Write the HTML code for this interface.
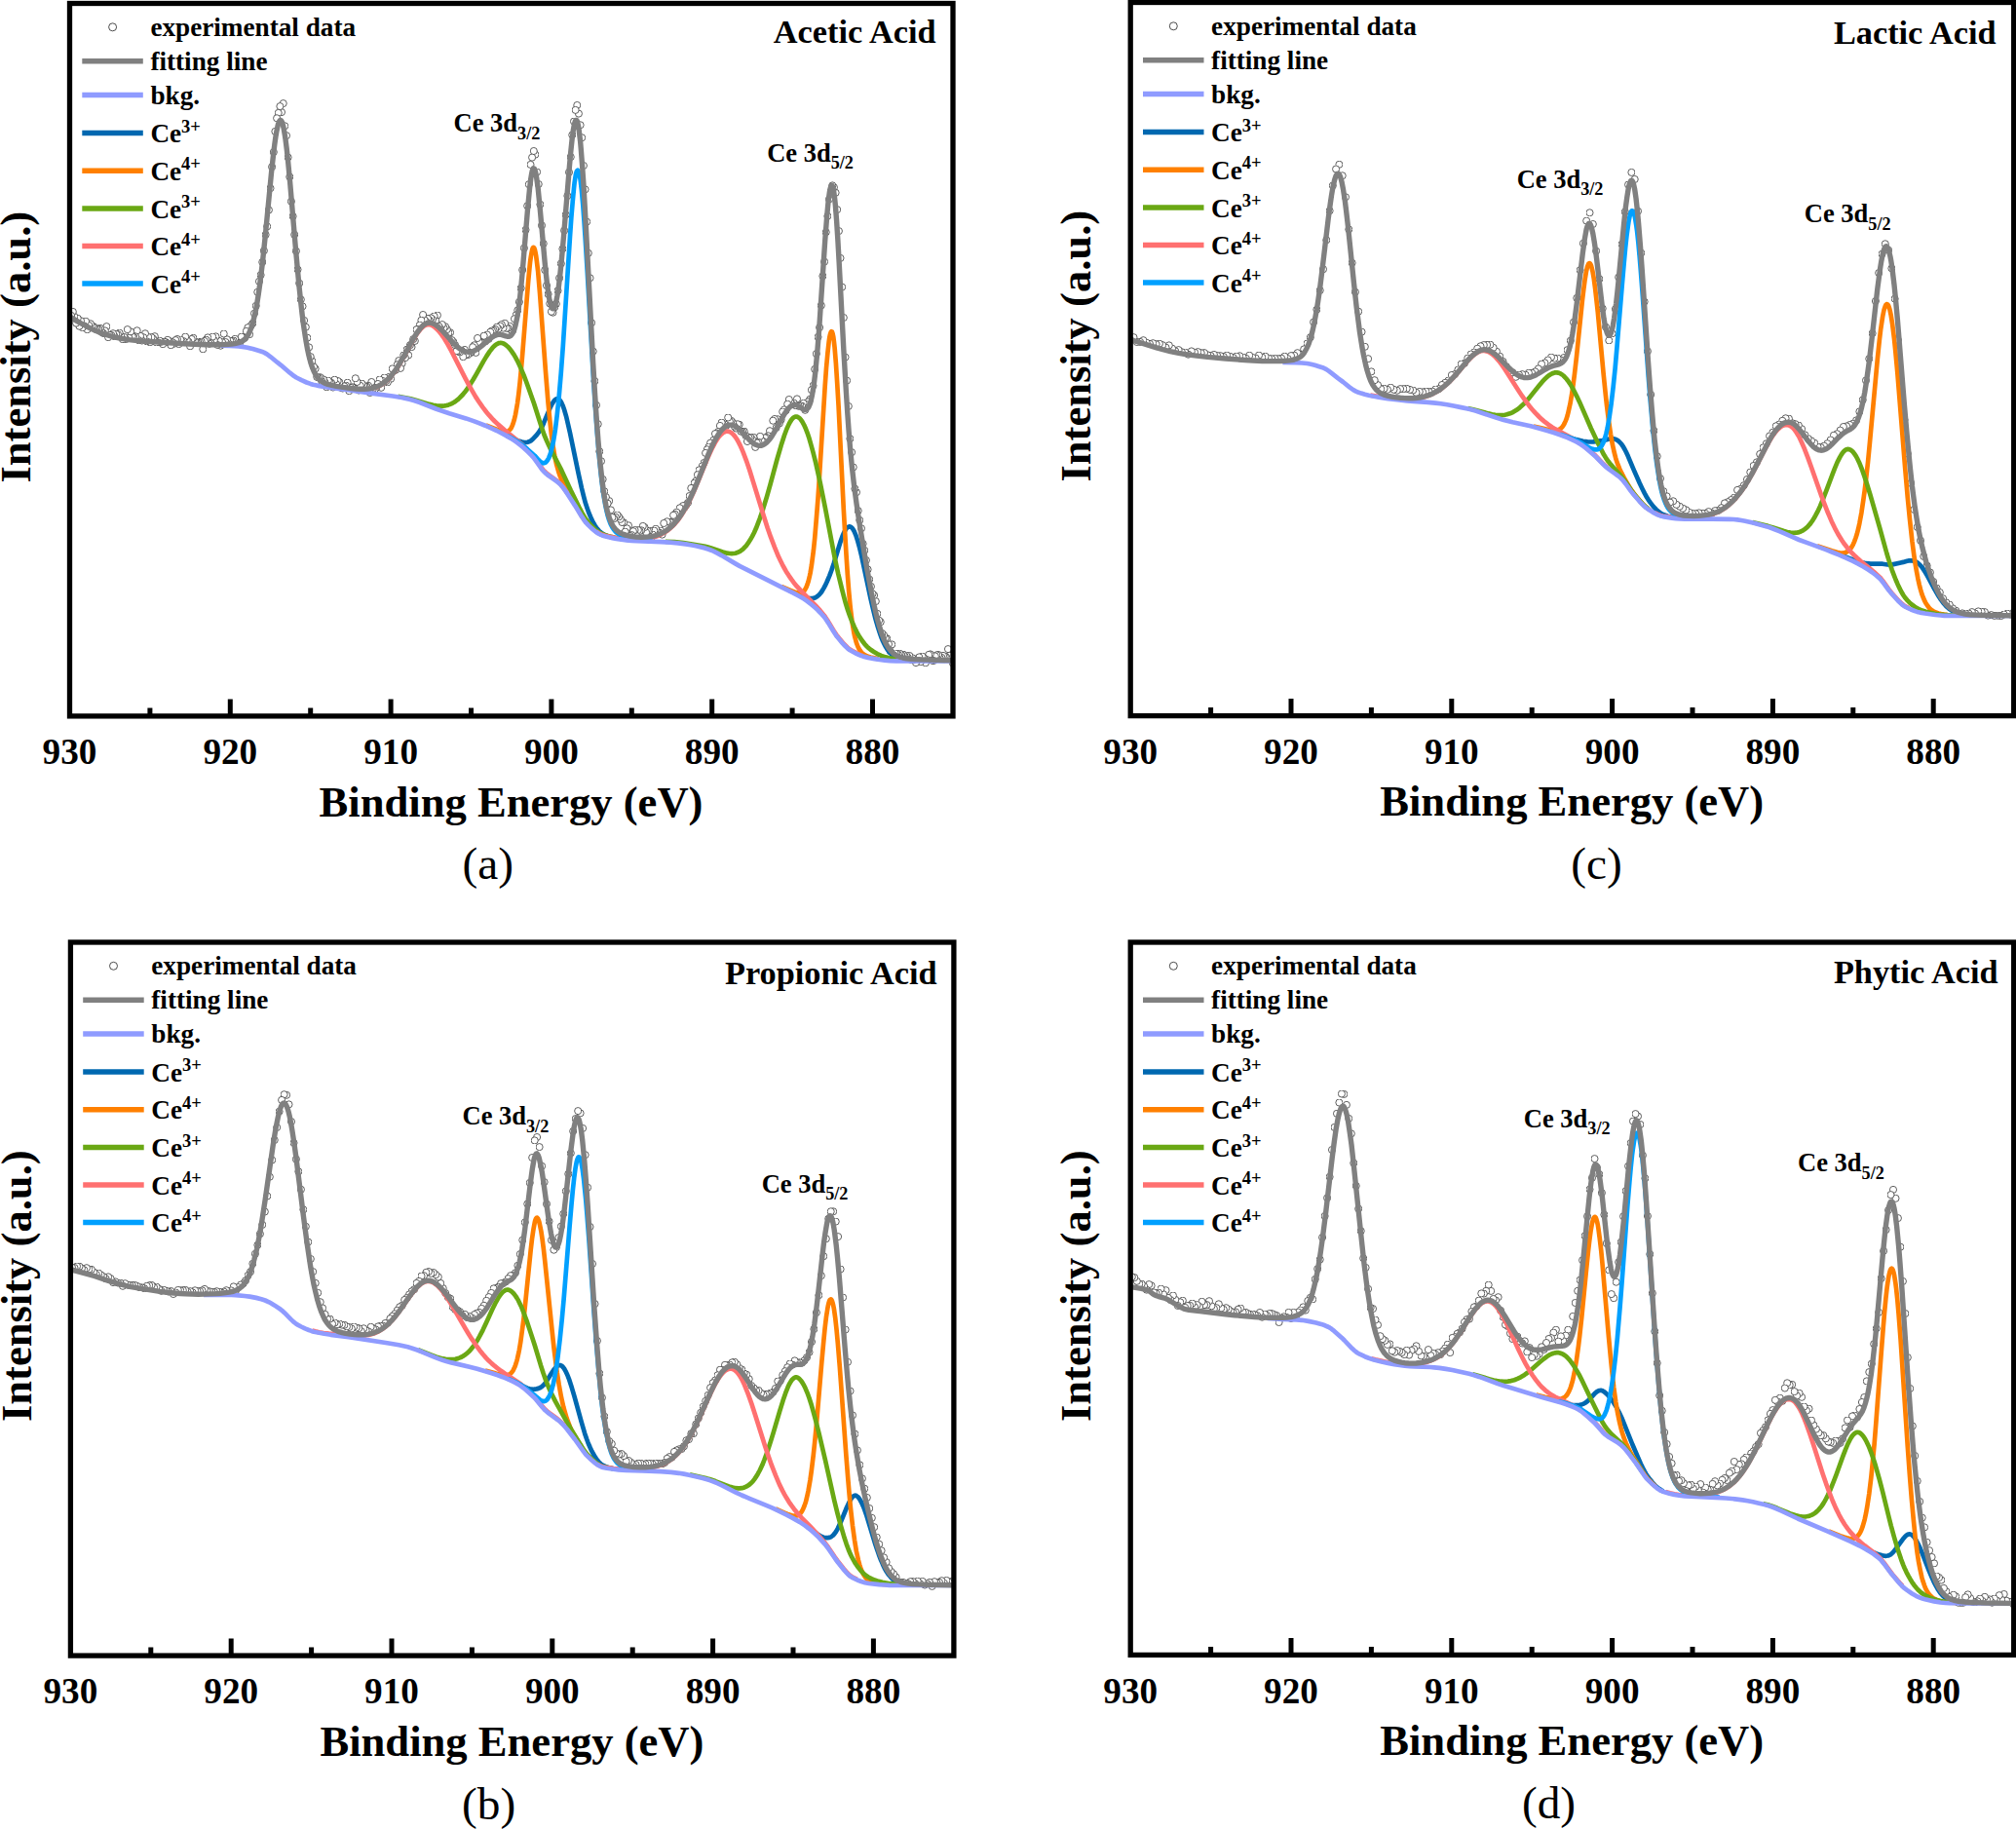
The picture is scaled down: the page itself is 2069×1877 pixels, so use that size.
<!DOCTYPE html>
    <html><head><meta charset="utf-8"><title>Ce 3d XPS</title>
    <style>html,body{margin:0;padding:0;background:#fff}svg{display:block}</style></head>
    <body><svg width="2069" height="1877" viewBox="0 0 2069 1877" font-family="'Liberation Serif',serif" font-weight="bold" fill="#000">
    <defs><marker id="mk" markerUnits="userSpaceOnUse" markerWidth="8" markerHeight="8" refX="4" refY="4"><circle cx="4" cy="4" r="3.55" fill="#fff" stroke="#383838" stroke-width="0.8"/></marker></defs>
    <rect width="2069" height="1877" fill="#fff"/>
    <clipPath id="ca"><rect x="71.5" y="3.5" width="906.5" height="731.4"/></clipPath>
<g clip-path="url(#ca)" fill="none" stroke-linejoin="round" stroke-linecap="butt">
<polyline points="977.9,680.5 976.3,673.9 974.6,672.8 973,666.1 971.3,674.6 969.7,673.6 968,672.9 966.4,674.9 964.7,675.7 963.1,672 961.4,672.3 959.8,673.4 958.1,678.1 956.5,677.7 954.8,671.4 953.2,671.9 951.5,677.1 949.9,680.3 948.2,675.2 946.6,673.6 944.9,679.2 943.3,674.4 941.6,677.6 940,680.1 938.3,676.8 936.7,675.4 935.1,677.1 933.4,673 931.8,674.8 930.1,672.5 928.5,673.2 926.8,671.5 925.2,672 923.5,670.8 921.9,671.7 920.2,670.5 918.6,670.5 916.9,672.3 915.3,661.4 913.6,668.1 912,661.1 910.3,655.3 908.7,654.9 907,651.8 905.4,650.1 903.7,638.3 902.1,636.7 900.4,629.8 898.8,617.1 897.1,610.9 895.5,609.4 893.9,601.9 892.2,594.6 890.6,584.4 888.9,575 887.3,564.9 885.6,558 884,542.3 882.3,533.9 880.7,524.2 879,505.2 877.4,501.6 875.7,479.5 874.1,464.2 872.4,450.2 870.8,416.9 869.1,390.6 867.5,366.6 865.8,326 864.2,294.6 862.5,264.9 860.9,237.1 859.2,215.1 857.6,197.8 855.9,192.3 854.3,190.4 852.7,196.4 851,204.5 849.4,221.8 847.7,238.3 846.1,268.6 844.4,283.3 842.8,313.5 841.1,336.1 839.5,345.9 837.8,363.1 836.2,378.9 834.5,395.8 832.9,400.2 831.2,409.8 829.6,412.3 827.9,415.2 826.3,420.8 824.6,413.8 823,416.6 821.3,416.3 819.7,416.8 818,409.4 816.4,416.1 814.7,413.6 813.1,415.1 811.5,413.3 809.8,410 808.2,414.7 806.5,421.3 804.9,420.4 803.2,422.5 801.6,430.8 799.9,434.5 798.3,430.3 796.6,439 795,430 793.3,431.7 791.7,444 790,442.2 788.4,447.3 786.7,449 785.1,449.4 783.4,453.1 781.8,452.4 780.1,447.8 778.5,453.9 776.8,454.4 775.2,458.9 773.5,448.9 771.9,450.7 770.3,448.8 768.6,449.3 767,453 765.3,446.9 763.7,442.6 762,442.9 760.4,442.7 758.7,435.7 757.1,435.3 755.4,439.5 753.8,437.6 752.1,433.8 750.5,431.9 748.8,432.3 747.2,428.5 745.5,436.7 743.9,435.5 742.2,436.4 740.6,433.6 738.9,436.9 737.3,443 735.6,444.6 734,445.1 732.3,451.8 730.7,456.5 729.1,454.6 727.4,458.6 725.8,461.3 724.1,464.9 722.5,475 720.8,478.3 719.2,482.2 717.5,482.4 715.9,487.2 714.2,493.7 712.6,495.8 710.9,501 709.3,501 707.6,509 706,516 704.3,518.2 702.7,520.6 701,519.1 699.4,523.5 697.7,521.3 696.1,527.6 694.4,525.7 692.8,527.8 691.1,528.8 689.5,535.9 687.9,536.2 686.2,538 684.6,535.3 682.9,540.8 681.3,537 679.6,548.6 678,544.5 676.3,546.4 674.7,546 673,542.7 671.4,544.6 669.7,548.5 668.1,553.2 666.4,544.6 664.8,545 663.1,546.4 661.5,541.1 659.8,539.9 658.2,544.3 656.5,545 654.9,544.1 653.2,549.9 651.6,544 649.9,545.2 648.3,549.1 646.7,550 645,539.3 643.4,542.3 641.7,545.7 640.1,536.3 638.4,536 636.8,532.8 635.1,530.4 633.5,528.5 631.8,530.7 630.2,532.2 628.5,531 626.9,523.4 625.2,514.1 623.6,516.7 621.9,510.1 620.3,504.3 618.6,491.9 617,473.3 615.3,463.3 613.7,435.2 612,415.8 610.4,391.1 608.7,360.6 607.1,331.3 605.5,285.3 603.8,259.8 602.2,227.6 600.5,194.4 598.9,170 597.2,141.3 595.6,128.3 593.9,116.6 592.3,108 590.6,112.9 589,124.6 587.3,138.5 585.7,161.1 584,176.8 582.4,201 580.7,220.4 579.1,236.6 577.4,255.4 575.8,270.5 574.1,285.4 572.5,298.3 570.8,311.9 569.2,315.3 567.5,320.7 565.9,319.8 564.3,311.5 562.6,301.9 561,293 559.3,277.1 557.7,250 556,231.4 554.4,209.8 552.7,189 551.1,176.5 549.4,158.6 547.8,155 546.1,161.6 544.5,168.9 542.8,189.2 541.2,211.3 539.5,235.9 537.9,254.6 536.2,277 534.6,295.8 532.9,309.9 531.3,318.4 529.6,323.4 528,327.2 526.3,339.1 524.7,338.6 523.1,334.7 521.4,336.7 519.8,336.8 518.1,331.8 516.5,336.6 514.8,333.1 513.2,334.5 511.5,337.5 509.9,335.7 508.2,337.9 506.6,339 504.9,339.5 503.3,340.7 501.6,347.9 500,343.5 498.3,350.3 496.7,344.7 495,351.5 493.4,351.6 491.7,351.1 490.1,347 488.4,361.9 486.8,354.3 485.1,356.2 483.5,361.8 481.9,362.4 480.2,364.1 478.6,363.7 476.9,358.9 475.3,366.2 473.6,359.6 472,361.4 470.3,360.6 468.7,360.1 467,354 465.4,351 463.7,349.1 462.1,341.3 460.4,341.6 458.8,338.1 457.1,335.3 455.5,336.6 453.8,333.1 452.2,337.6 450.5,335 448.9,323.5 447.2,328.9 445.6,324.5 443.9,327.9 442.3,326.4 440.7,328.6 439,327 437.4,330.2 435.7,328.4 434.1,323 432.4,328.7 430.8,333.6 429.1,337.7 427.5,338.2 425.8,349.9 424.2,348.1 422.5,356.1 420.9,354.2 419.2,364.5 417.6,358.7 415.9,367.2 414.3,364.5 412.6,373 411,377.9 409.3,370.1 407.7,374.3 406,379.8 404.4,380.1 402.7,378.4 401.1,388.8 399.5,386.8 397.8,392.4 396.2,391.1 394.5,387.5 392.9,391 391.2,397.8 389.6,389.5 387.9,394 386.3,397.8 384.6,399.9 383,398.8 381.3,392 379.7,403 378,395.8 376.4,396.7 374.7,396.6 373.1,395.9 371.4,393.7 369.8,395.9 368.1,400.5 366.5,391.9 364.8,388.3 363.2,398.2 361.5,397.3 359.9,397.8 358.3,401.2 356.6,392.7 355,395.6 353.3,396.4 351.7,398.5 350,397.9 348.4,392.3 346.7,391 345.1,394.1 343.4,389.7 341.8,397.5 340.1,392.9 338.5,392.4 336.8,390.6 335.2,397.3 333.5,392.4 331.9,389.4 330.2,391.2 328.6,387.2 326.9,387.5 325.3,386.9 323.6,378.4 322,376.4 320.3,370.5 318.7,366.1 317.1,356.4 315.4,346.7 313.8,335.7 312.1,328.9 310.5,314.4 308.8,307.4 307.2,290.7 305.5,276.6 303.9,257.7 302.2,240.8 300.6,222 298.9,206.7 297.3,181.5 295.6,161.5 294,139.2 292.3,129.3 290.7,106.1 289,115.1 287.4,109.1 285.7,115.9 284.1,121.3 282.4,134.9 280.8,156.1 279.1,171.3 277.5,193.2 275.9,215.5 274.2,232.4 272.6,240.9 270.9,257.3 269.3,269 267.6,282.2 266,288.8 264.3,299.8 262.7,313.9 261,321.7 259.4,331.8 257.7,334 256.1,343.2 254.4,336.2 252.8,339.9 251.1,346.9 249.5,346.3 247.8,345.6 246.2,351.8 244.5,352.3 242.9,352.5 241.2,347.8 239.6,349.5 237.9,349.9 236.3,349.8 234.7,352.6 233,348.3 231.4,351 229.7,342.5 228.1,351.3 226.4,354.7 224.8,349.8 223.1,353.9 221.5,345.4 219.8,349.2 218.2,345.6 216.5,352.1 214.9,352.8 213.2,346.4 211.6,348.7 209.9,350 208.3,358.3 206.6,350.5 205,351.2 203.3,351.5 201.7,351.4 200,350.3 198.4,346.8 196.7,348 195.1,355.3 193.5,350.7 191.8,348.9 190.2,345.6 188.5,350.2 186.9,350.8 185.2,348.5 183.6,353.1 181.9,348 180.3,349.1 178.6,352.7 177,351.3 175.3,354.2 173.7,350 172,348.8 170.4,351.3 168.7,350.8 167.1,353.2 165.4,350.8 163.8,349.6 162.1,351.3 160.5,351.4 158.8,345.2 157.2,347.6 155.5,346.2 153.9,351.3 152.3,346 150.6,350.3 149,342.3 147.3,346.3 145.7,349.5 144,344.8 142.4,349.2 140.7,339.3 139.1,345.4 137.4,346.1 135.8,345.3 134.1,340.4 132.5,346.9 130.8,338.1 129.2,348.1 127.5,346 125.9,348.2 124.2,345 122.6,341.6 120.9,343.1 119.3,342.9 117.6,345.2 116,342.2 114.3,344 112.7,344 111.1,346.2 109.4,335.1 107.8,339.4 106.1,342 104.5,340.9 102.8,336.8 101.2,337.6 99.5,337.4 97.9,337.8 96.2,335.3 94.6,334.7 92.9,332.3 91.3,334 89.6,338.2 88,329.7 86.3,334.4 84.7,336.2 83,329.3 81.4,334.7 79.7,326.7 78.1,331.6 76.4,324.9 74.8,319.9 73.1,323.9 71.5,327.4" stroke="none" fill="none" marker-start="url(#mk)" marker-mid="url(#mk)" marker-end="url(#mk)"/>
<path d="M629.2,551.8L624.6,550.4L622.6,549.7L620.6,548.8L618.6,547.8L617.3,546.9L616,545.9L614.7,544.6L613.4,543.2L612,541.4L610.7,539.5L609.4,537.3L608.1,534.8L606.8,532.1L604.1,525.8L602.2,520.3L600.8,516.1L598.9,508.9L596.9,500.8L593.6,485.7L585,444.2L583,435.4L581.1,427.3L579.1,420.5L577.8,416.7L576.4,413.6L575.8,412.4L574.5,410.6L573.8,410L573.2,409.6L572.5,409.3L571.8,409.3L571.2,409.4L570.5,409.7L569.9,410.1L569.2,410.7L567.9,412.4L566.6,414.5L564.6,418.5L562.6,423.1L558,434.2L556.7,437.1L554.7,440.8L552.7,443.9L550.1,447.2L546.8,450.7L544.8,452.3L542.8,453.3L541.5,453.7L540.2,454L538.2,454L535.6,453.6L532.3,452.6L528.3,450.9L525,449.4L519.1,446.3" stroke="#0068b0" stroke-width="4.7"/>
<path d="M939,677.8L931.8,677.4L929.1,677.2L926.5,676.8L923.8,676.2L921.9,675.6L919.9,674.8L918.6,674.1L916.6,672.9L915.3,671.8L914,670.5L912.6,669.1L911.3,667.4L910,665.4L908.7,663.2L907.4,660.6L906,657.8L904.7,654.6L902.8,649.2L900.8,643L898.1,633.5L896.2,625.6L893.5,614.1L884.3,571L882.3,562.7L880.3,555.4L878.4,549.4L877,546.1L876.4,544.8L875.1,542.6L874.4,541.8L873.7,541.1L873.1,540.7L872.4,540.5L871.8,540.4L871.1,540.5L870.5,540.8L869.8,541.2L869.1,541.9L867.8,543.6L867.2,544.7L865.8,547.4L864.5,550.5L862.5,556.1L855.9,577.7L853.3,585.5L851.3,590.8L848.7,597L847.4,599.8L845.4,603.6L843.4,607L842.1,608.8L840.8,610.3L838.8,612L837.5,612.9L836.2,613.5L834.9,613.9L833.5,614.1L832.2,614.1L830.2,613.9L828.9,613.7L826.9,613.1L823.6,612L819,610L810.5,606.1" stroke="#0068b0" stroke-width="4.7"/>
<path d="M602.2,536.7L600.2,534.1L597.5,530.2L590.3,517.9L586.3,511.4L581.7,503.2L577.8,495.4L575.1,489.4L573.2,483.9L571.2,476.9L569.2,467.7L567.2,455.6L565.9,445.8L564.6,434.3L562.6,414L560,381.8L554,300.6L552.1,278.1L550.7,266.6L550.1,262.1L549.4,258.5L548.8,255.9L548.1,254.3L547.4,253.9L546.8,254.6L546.1,256.6L545.5,259.6L544.8,263.6L544.1,268.6L543.5,274.5L542.2,288.3L540.9,304.2L536.2,363.6L534.9,378.8L533.6,392.4L532.3,404.2L531,414.1L529.6,422.1L529,425.5L527.7,431.1L526.3,435.4L525.7,437L524.4,439.6L523.7,440.5L522.4,441.9L521.1,442.7L519.8,443.1L517.8,443.1L516.5,442.9L514.5,442.4L511.2,441.2L498.7,436.5" stroke="#ff8000" stroke-width="4.7"/>
<path d="M901.4,676.3L897.5,675.4L893.5,674.5L890.9,673.7L888.9,672.9L886.9,671.9L885.6,670.9L884.3,669.7L883,668.1L881.7,666.1L880.3,663.3L879,659.8L878.4,657.6L877,652.4L876.4,649.2L875.1,641.6L874.4,637.1L873.1,626.5L872.4,620.3L871.1,606L869.8,589L868.5,569.2L867.2,547L865.8,522.6L860.6,416.8L859.2,393.2L857.9,372.8L856.6,356.7L855.9,350.6L855.3,345.8L854.6,342.5L854,340.6L853.3,340.2L852.7,341L852,343L851.3,346.2L850.7,350.5L849.4,362.4L848,377.9L846.7,396.2L840.8,491.8L839.5,511.3L838.1,529.2L836.2,552.2L834.9,564.9L833.5,575.6L832.9,580.2L831.6,588L830.9,591.3L829.6,596.7L828.9,598.9L827.6,602.4L826.9,603.8L825.6,605.9L824.3,607.3L823,608.1L821.7,608.5L820.4,608.7L819,608.6L817.1,608.1L815.1,607.5L811.8,606.2L801.9,601.9" stroke="#ff8000" stroke-width="4.7"/>
<path d="M650.9,554.6L647,554.2L642.4,553.6L636.4,552.8L631.2,551.8L627.2,550.9L623.9,550L620.6,549L617.3,547.7L615.3,546.7L613.4,545.3L611.4,543.8L609.4,542L606.8,539.3L604.1,536.3L602.2,533.9L600.8,532.1L599.5,530L597.5,526.6L594.2,520.3L585.7,503L576.4,482.9L573.8,477.7L565.9,462.7L563.3,457.3L561.3,452.9L558.6,446.5L556.7,441L554.7,435.1L548.1,414.2L542.8,399.2L540.2,392L537.6,385.2L534.9,378.8L532.9,374.4L531,370.3L529,366.6L527,363.3L525,360.4L523.1,357.8L521.1,355.7L519.1,354L517.8,353.1L516.5,352.4L515.1,352L513.8,351.9L513.2,352L511.8,352.2L510.5,352.8L508.5,354L507.2,355.2L505.3,357.2L502.6,360.6L499.3,365.6L496,371.1L488.8,384.1L485.5,389.8L482.2,395.1L478.9,400L476.9,402.6L474.9,405L471.6,408.4L469.7,410.2L467.7,411.7L465.7,413L463.7,414.1L462.4,414.7L460.4,415.4L458.5,416L456.5,416.4L454.5,416.6L452.5,416.7L450.5,416.7L447.9,416.4L444.6,415.8L440.7,414.9L426.8,410.7L421.5,409.3L416.3,408.2L408.4,406.8" stroke="#6aa814" stroke-width="4.7"/>
<path d="M970.3,677.8L942.6,677.3L925.5,676.7L919.6,676.3L916.3,675.9L912.3,675.2L909,674.4L904.4,672.9L900.4,671.1L896.5,668.8L893.2,666.5L891.2,664.9L889.9,663.6L887.3,660.8L884.6,657.3L882,653.3L879.3,648.6L876.7,643.2L874.1,637.1L872.1,632L870.1,626.3L868.1,619.8L866.2,612.8L864.2,605.2L860.2,588.8L856.9,573.5L854.3,560L847,521.6L841.8,495.8L837.2,475L834.5,464.3L832.5,457L830.6,450.3L828.6,444.3L826.6,439.2L825.3,436.3L823.3,432.7L822,430.8L820.7,429.3L820,428.7L818.7,427.9L818,427.6L817.4,427.5L816.7,427.5L816.1,427.7L814.7,428.3L813.4,429.5L812.1,431.1L810.8,433.1L809.5,435.6L807.5,440L804.9,447L801.6,457.3L797.6,471L790.4,497.6L787.1,509.3L783.1,522.4L779.8,532.1L777.8,537.4L775.9,542.3L773.9,546.7L771.9,550.6L769.9,554.1L767.9,557.2L766,559.8L763.3,562.7L761.4,564.4L760,565.4L758.7,566.2L756.7,567.1L754.8,567.7L752.8,568L750.8,568.1L748.8,568L746.2,567.7L742.9,566.9L738.9,565.6L729.1,562.2L725.8,561.3L722.5,560.5L710.6,558.5L701.4,557.2L692.1,556.2L682.9,555.8" stroke="#6aa814" stroke-width="4.7"/>
<path d="M582.4,506.4L579.7,502.4L577.8,499.7L575.8,497.3L574.5,496L572.5,494.2L570.5,492.6L563.9,488L561.9,486.5L560,484.8L558,482.9L556.7,481.3L555.4,479.5L550.1,471.8L548.1,469.1L544.1,464.7L539.5,459.9L535.6,456L531.6,452.5L517.8,441.3L511.2,435.6L507.9,432.5L505.3,429.8L502,426.2L499.3,423L495.4,417.9L492.1,413.2L488.1,407.1L484.2,400.4L480.9,394.5L477.6,388.3L463.1,359.9L459.8,353.9L456.5,348.3L454.5,345.3L452.5,342.5L450.5,340.1L449.2,338.6L447.2,336.7L445.9,335.6L443.9,334.3L442.6,333.6L441.3,333.2L440,333L438.7,333.1L438,333.2L436.7,333.7L435.4,334.4L434.1,335.4L432.7,336.6L430.8,338.8L428.1,342.3L424.8,347.4L421.5,353.1L414.9,365.2L411.6,371.1L408.4,376.5L405.1,381.3L403.1,383.9L401.1,386.3L397.8,389.8L395.8,391.6L393.8,393.2L391.9,394.5L389.9,395.7L387.9,396.7L385.9,397.5L384,398.1L381.3,398.8L379.3,399.1L376.7,399.5L374.1,399.7L370.8,399.7L366.8,399.7L362.9,399.4L349,398.2L337.8,397.1L329.2,395.8" stroke="#ff7070" stroke-width="4.7"/>
<path d="M885.3,672.9L882.6,671.9L879.3,670.4L876.1,668.7L872.8,666.8L871.4,665.9L869.5,664.2L866.2,660.9L861.6,655.5L859.6,653.1L858.3,651.3L855.6,647.2L849,636.2L847,633.2L845.7,631.4L841.8,626.7L837.2,621.7L832.5,616.9L823.3,607.6L818,601.9L814.7,597.9L812.1,594.4L809.5,590.6L806.8,586.4L804.9,583L802.9,579.3L800.9,575.3L798.9,571.1L795,561.6L791,551.2L787.7,541.7L783.8,529.5L773.2,495.1L769.3,482.5L766,472.8L762.7,464.1L760.7,459.4L759.4,456.6L757.4,452.7L756.1,450.5L754.1,447.6L752.8,446.1L750.8,444.2L749.5,443.4L748.2,442.9L747.5,442.7L746.2,442.6L744.9,442.8L744.2,443L742.9,443.6L741.6,444.4L739.6,446.2L737.6,448.5L735.6,451.4L734.3,453.5L732.3,457L730.4,460.9L728.4,465.2L724.4,474.3L716.5,493.9L712.6,503.2L708.6,511.9L704.7,519.7L702,524.4L700,527.6L697.4,531.5L694.8,535L692.8,537.3L690.2,540.1L687.5,542.5L684.9,544.6L681.6,546.7L678.3,548.5L675,549.9L671,551.2L667.1,552.1L662.5,552.8L657.2,553.3L651.9,553.5L646.7,553.4L640.1,552.9L632.8,552.1L626.2,550.9L620.9,549.7L617,548.4L614.4,547.1L611.7,545.4" stroke="#ff7070" stroke-width="4.7"/>
<path d="M669.4,555.3L662.8,554.7L656.9,554.1L651.6,553.4L647,552.6L643,551.6L639.1,550.2L636.4,549L635.1,548.3L633.8,547.4L631.8,545.7L629.8,543.3L628.5,541.3L627.9,540.2L626.5,537.4L625.2,534L623.9,529.8L622.6,524.7L621.3,518.6L620,511.2L618.6,502.5L616.7,486.6L614.7,466.7L612.7,442.7L610.7,414.9L608.7,383.5L602.8,279.7L600.8,246.8L599.5,227L598.2,209.6L596.9,195.2L595.6,184.3L594.9,180.4L594.2,177.4L593.6,175.5L592.9,174.7L592.3,175.1L591.6,176.6L590.9,179.2L590.3,182.8L589.6,187.5L589,193.2L587.7,207.1L586.3,223.8L585,242.6L579.7,325.7L577.8,355.4L575.8,382.3L573.8,405.7L571.8,425.3L569.9,441L569.2,445.4L567.9,453.1L567.2,456.4L565.9,462L565.2,464.4L563.9,468.2L563.3,469.8L561.9,472.3L560.6,473.9L560,474.5L559.3,474.9L558.6,475.2L558,475.3L557.3,475.2L556.7,475L555.4,474.4L554,473.3L552.7,472L548.8,467.7L547.4,466.5L540.9,460.7L536.2,456.9L532.9,454.5L529.6,452.3L525,449.6L520.4,447.1" stroke="#00a0ff" stroke-width="4.7"/>
<path d="M977.9,678.3L919.9,678.3L913.3,678.1L908,677.6L902.8,677L897.5,676.1L890.9,674.9L886.9,673.9L884.3,673.1L881.7,672L879,670.8L876.4,669.5L872.4,667.3L869.8,665.3L867.2,662.8L864.5,659.9L861.9,656.8L859.2,653.6L857.9,651.8L855.3,647.8L850,639.1L847.4,635.2L846.1,633.4L842.1,629L839.5,626.3L836.8,623.8L832.9,620.4L830.2,618.3L827.6,616.4L825,614.6L821,612.2L814.4,608.6L801.2,602.1L789.4,596.1L767,584.9L759,580.9L753.8,577.9L740.6,570.1L736.6,567.9L732.7,565.9L730,564.7L727.4,563.7L723.4,562.4L714.2,560.3L708.9,559.3L703.7,558.4L695.8,557.3L687.9,556.6L678.6,556.1L653.6,555.2L648.3,554.9L643,554.3L632.5,552.9L628.5,552.1L624.6,551.3L620.6,550.2L618,549.4L616.7,548.9L614,547.5L611.4,545.7L607.4,542.4L603.5,538.6L602.2,537.2L600.8,535.6L599.5,533.8L596.9,529.9L590.3,519.1L581.1,504.9L578.4,501.1L577.1,499.5L575.8,497.9L574.5,496.6L573.2,495.4L570.5,493.3L562.6,487.8L560,485.7L558.6,484.4L557.3,483L556,481.4L550.7,473.8L548.1,470.3L545.5,467.4L541.5,463.4L537.6,459.7L534.9,457.4L532.3,455.3L529.6,453.3L524.4,449.9L517.8,446.1L509.9,442L504.6,439.6L498,436.7L491.4,434.1L486.1,432.1L478.2,429.4L461.1,424.2L454.5,422L447.9,419.7L430.8,413L425.5,411.2L420.2,409.7L417.6,409.1L412.3,408L403.1,406.5L383.3,403.9L355.6,400L339.8,398L333.2,397L327.9,396.1L324,395.3L321.3,394.7L318.7,393.9L314.7,392.5L309.5,390.2L304.2,387.5L301.6,385.8L297.6,382.7L288.4,374.8L284.4,371.7L277.8,366.3L273.9,363.4L271.2,361.9L269.9,361.2L266,359.9L259.4,358L254.1,356.8L248.8,355.9L244.9,355.5L240.9,355.2L235.6,355L226.4,354.7" stroke="#8f9bff" stroke-width="4.7"/>
<path d="M977.9,677.8L950.9,677.1L941.6,676.7L935.1,676.3L930.4,675.8L926.5,675L923.2,674.1L921.2,673.2L919.9,672.6L917.9,671.3L916.6,670.3L915.3,669L914,667.6L912.6,665.9L911.3,664L909.3,660.6L908,657.9L906.7,654.9L904.7,649.7L902.1,641.4L900.1,634.2L897.5,623.2L894.2,607.5L890.2,586.1L886.3,563L882.3,538.6L879,516.7L876.4,496.8L874.4,479.2L872.4,458.4L871.1,442.3L869.8,424.1L868.5,403.9L865.8,358L861.2,269.8L859.9,246.8L858.6,226.5L857.3,210L856.6,203.4L855.9,198L855.3,194L854.6,191.4L854,190.2L853.3,190.3L852.7,191.5L852,194L851.3,197.5L850.7,202.1L850,207.6L848.7,221.4L846.7,247.2L840.8,335.9L838.8,361L836.8,381.7L835.5,392.7L834.9,397.4L833.5,405.3L832.2,411.2L831.6,413.5L830.9,415.4L830.2,417L829.6,418.2L828.9,419.1L828.3,419.8L827.6,420.2L826.9,420.4L826.3,420.5L825.6,420.4L824.3,419.9L823,419.1L819,416.4L817.7,415.8L816.4,415.4L815.1,415.4L813.8,415.7L812.4,416.3L811.1,417.2L809.8,418.4L808.5,419.9L807.2,421.7L805.2,424.7L802.6,429.2L795.3,442.3L792.7,446.7L790.7,449.6L789.4,451.3L788.1,452.8L786.1,454.7L784.8,455.7L783.4,456.5L781.5,457.2L779.5,457.4L777.5,457.1L775.5,456.3L774.2,455.6L772.9,454.7L770.9,453.1L768.9,451.2L762.3,444.2L759,440.9L756.4,438.7L755.1,437.8L753.8,437.1L752.5,436.6L751.1,436.2L749.8,436.1L748.5,436.1L747.2,436.4L745.9,437L744.5,437.7L743.2,438.7L741.9,439.9L740.6,441.3L739.3,442.9L738,444.7L735.3,449L732,455.2L729.4,460.8L726.7,466.9L715.5,494.9L712.9,501.2L710.3,507.2L707,514.1L704.3,519.2L701,525L698.4,529.1L695.1,533.6L691.8,537.5L688.5,540.7L686.5,542.4L684.6,543.9L682.6,545.2L680.6,546.4L678.6,547.4L676.6,548.2L672.7,549.6L670.7,550.1L668.1,550.6L663.5,551.1L658.2,551.3L652.9,551.1L647.6,550.4L643,549.4L639.1,548.1L637.1,547.2L635.8,546.5L634.5,545.7L633.1,544.6L631.2,542.7L629.2,540L627.9,537.7L627.2,536.3L625.9,533.1L624.6,529.2L623.3,524.4L621.9,518.6L620.6,511.5L619.3,503.2L618,493.3L616,475.3L614,453L612,426.3L610.7,406.2L608.7,372.9L606.8,336.5L600.8,222.5L598.9,188.6L597.5,168.9L596.2,152.1L595.6,145.1L594.2,133.7L593.6,129.5L592.9,126.3L592.3,124.3L591.6,123.3L590.9,123.4L590.3,124.5L589.6,126.7L589,129.8L588.3,133.7L587,143.9L585.7,156.6L584.4,171.1L578.4,243.9L576.4,266L575.1,279.1L573.2,295.7L571.8,304.3L570.5,310.8L569.9,313.2L569.2,315.1L568.5,316.3L567.9,316.9L567.2,316.9L566.6,316.3L565.9,315.1L565.2,313.2L564.6,310.7L563.9,307.6L562.6,299.7L561.3,289.6L559.3,270.9L554,211.8L552.1,192.6L550.7,182.7L550.1,178.9L549.4,175.9L548.8,173.9L548.1,172.8L547.4,172.7L546.8,173.7L546.1,175.9L545.5,179L544.8,183.1L543.5,193.9L541.5,214.9L536.2,278.9L534.9,293L533.6,305.3L532.3,315.8L531,324.4L529.6,331.2L529,334L527.7,338.4L527,340.1L526.3,341.5L525.7,342.6L525,343.5L524.4,344.2L523.7,344.7L523.1,345L521.7,345.3L520.4,345.2L519.1,344.9L515.1,343.6L513.8,343.4L512.5,343.3L511.2,343.4L509.9,343.7L508.5,344.2L507.2,344.7L505.3,345.9L502.6,347.8L494.7,354.6L492.1,356.7L488.8,358.9L486.1,360.2L484.2,360.8L482.8,361.1L480.9,361.2L479.5,361.1L478.2,360.9L476.2,360.3L474.9,359.7L473,358.6L471.6,357.7L469.7,356.1L466.4,353L463.1,349.5L455.2,340.6L452.5,337.9L449.9,335.5L447.9,334L446.6,333.1L445.3,332.4L443.9,331.8L442.6,331.4L441.3,331.1L440.7,331.1L439.3,331.2L438,331.6L436.7,332.2L435.4,333L434.1,334.1L432.7,335.4L431.4,336.8L428.8,340.3L426.1,344.4L423.5,348.8L414.3,365.8L410.3,372.7L406.4,379L403.1,383.5L399.8,387.4L396.5,390.6L393.2,393.3L391.2,394.6L389.2,395.7L386.6,396.9L383.3,398L380.7,398.6L377.4,399L373.4,399.3L369.5,399.2L364.8,399L360.2,398.5L351.7,397.4L345.1,396.3L340.5,395.4L336.5,394.4L333.2,393.2L330.6,391.7L328.6,390.3L326.6,388.3L325.3,386.7L324,384.7L322,380.8L320,375.8L318.7,371.6L316.7,363.8L315.4,357.6L314.1,350.3L312.8,342.1L311.4,332.8L310.1,322.4L308.8,311L306.8,291.9L303.5,256L297.6,186.4L295.6,165.5L294.3,153.3L293,142.8L292.3,138.3L291,130.9L290.4,128.2L289.7,126L289,124.5L288.4,123.6L287.7,123.4L287.1,123.9L286.4,125L285.7,126.7L285.1,129L283.8,135.3L283.1,139.2L281.8,148.4L280.5,159.1L278.5,177.5L272.6,238.8L269.3,270.5L266.6,292.3L265.3,301.7L264,310L262.7,317.3L261.3,323.7L260,329.1L258.1,335.7L256.7,339.2L256.1,340.8L254.8,343.4L254.1,344.5L252.8,346.4L250.8,348.5L248.8,350L246.8,351L244.2,351.9L240.9,352.6L237.6,353L231,353.5L225.8,353.7L219.2,353.8L212.6,353.7L205.3,353.5L188.8,352.7L146.6,350L138.7,349.4L132.1,348.6L124.2,347.4L117,345.8L113,344.7L109.7,343.7L105.8,342.4L102.5,341.2L95.2,338.1L88,334.5L80.1,330.1L71.5,324.8" stroke="#808080" stroke-width="5.4"/>
</g>
<rect x="71.5" y="3.5" width="906.5" height="731.4" fill="none" stroke="#000" stroke-width="5.3"/>
<path d="M153.9,734.9v-8.5M236.3,734.9v-17.5M318.7,734.9v-8.5M401.1,734.9v-17.5M483.5,734.9v-8.5M565.9,734.9v-17.5M648.3,734.9v-8.5M730.7,734.9v-17.5M813.1,734.9v-8.5M895.5,734.9v-17.5" stroke="#000" stroke-width="5" fill="none"/>
<text x="71.5" y="784.2" font-size="37.2" text-anchor="middle">930</text>
<text x="236.3" y="784.2" font-size="37.2" text-anchor="middle">920</text>
<text x="401.1" y="784.2" font-size="37.2" text-anchor="middle">910</text>
<text x="565.9" y="784.2" font-size="37.2" text-anchor="middle">900</text>
<text x="730.7" y="784.2" font-size="37.2" text-anchor="middle">890</text>
<text x="895.5" y="784.2" font-size="37.2" text-anchor="middle">880</text>
<text x="524.5" y="837.7" font-size="44.6" text-anchor="middle">Binding Energy (eV)</text>
<text x="500.8" y="902.4" font-size="47.3" text-anchor="middle" font-weight="normal">(a)</text>
<text transform="translate(30.7,495.6) rotate(-90)" font-size="44.6">Intensity (a.u.)</text>
<text x="960.5" y="44.4" font-size="34.3" text-anchor="end">Acetic Acid</text>
<circle cx="115.6" cy="27.8" r="4" fill="none" stroke="#383838" stroke-width="0.9"/>
<path d="M84.3,62.7H146.8" stroke="#808080" stroke-width="5.5"/>
<path d="M84.3,97.6H146.8" stroke="#8f9bff" stroke-width="5.5"/>
<path d="M84.3,136.5H146.8" stroke="#0068b0" stroke-width="5.5"/>
<path d="M84.3,175.2H146.8" stroke="#ff8000" stroke-width="5.5"/>
<path d="M84.3,213.9H146.8" stroke="#6aa814" stroke-width="5.5"/>
<path d="M84.3,252.4H146.8" stroke="#ff7070" stroke-width="5.5"/>
<path d="M84.3,291H146.8" stroke="#00a0ff" stroke-width="5.5"/>
<text x="154.4" y="36.7" font-size="27.2">experimental data</text>
<text x="154.4" y="71.6" font-size="27.2">fitting line</text>
<text x="154.4" y="106.5" font-size="27.2">bkg.</text>
<text x="154.4" y="146.1" font-size="27.2">Ce<tspan dy="-10.5" font-size="18.5">3+</tspan></text>
<text x="154.4" y="184.8" font-size="27.2">Ce<tspan dy="-10.5" font-size="18.5">4+</tspan></text>
<text x="154.4" y="223.5" font-size="27.2">Ce<tspan dy="-10.5" font-size="18.5">3+</tspan></text>
<text x="154.4" y="262" font-size="27.2">Ce<tspan dy="-10.5" font-size="18.5">4+</tspan></text>
<text x="154.4" y="300.6" font-size="27.2">Ce<tspan dy="-10.5" font-size="18.5">4+</tspan></text>
<text x="465.6" y="135.3" font-size="26.5">Ce 3d<tspan dy="7.2" font-size="18.2">3/2</tspan></text>
<text x="787.2" y="165.8" font-size="26.5">Ce 3d<tspan dy="7.2" font-size="18.2">5/2</tspan></text>
<clipPath id="cb"><rect x="72.4" y="967" width="906.5" height="732.1"/></clipPath>
<g clip-path="url(#cb)" fill="none" stroke-linejoin="round" stroke-linecap="butt">
<polyline points="978.8,1624.4 976.3,1623 973.9,1623.7 971.4,1621.9 968.9,1624.7 966.4,1622.2 964,1623.9 961.5,1624.3 959,1623.2 956.6,1627.9 954.1,1623.9 951.6,1625.3 949.1,1626.5 946.7,1622.9 944.2,1625.3 941.7,1622.7 939.2,1625 936.8,1623.1 934.3,1623.2 931.8,1625.2 929.4,1624.5 926.9,1623.9 924.4,1624.2 921.9,1623.3 919.5,1618.5 917,1615.2 914.5,1612.8 912.1,1609.3 909.6,1603.1 907.1,1598.4 904.6,1591.3 902.2,1584.7 899.7,1577.6 897.2,1567.2 894.8,1557.8 892.3,1548 889.8,1536.9 887.3,1527.7 884.9,1517.4 882.4,1503.4 879.9,1488.4 877.4,1471.6 875,1452.4 872.5,1427.5 870,1397.8 867.6,1364.5 865.1,1331.5 862.6,1302.5 860.1,1269.1 857.7,1253.6 855.2,1243.3 852.7,1243.3 850.3,1250.7 847.8,1271.3 845.3,1289.2 842.8,1309.2 840.4,1329.2 837.9,1347 835.4,1364 833,1377 830.5,1387.8 828,1393.1 825.5,1396.3 823.1,1398.6 820.6,1398.3 818.1,1398.4 815.6,1396.4 813.2,1400.5 810.7,1399.5 808.2,1403.2 805.8,1407.2 803.3,1411.2 800.8,1417 798.3,1417.5 795.9,1424.9 793.4,1428.6 790.9,1429.5 788.5,1430.7 786,1430.9 783.5,1431.5 781,1429.7 778.6,1427 776.1,1427.1 773.6,1424.5 771.2,1422.1 768.7,1415.2 766.2,1410.7 763.7,1409.5 761.3,1405.5 758.8,1403.9 756.3,1400.2 753.8,1397.7 751.4,1398.3 748.9,1400.6 746.4,1401.4 744,1400.8 741.5,1405.9 739,1405.7 736.5,1411.3 734.1,1416.5 731.6,1419.3 729.1,1424.2 726.7,1431.8 724.2,1437.8 721.7,1443.5 719.2,1449.8 716.8,1455.5 714.3,1461.6 711.8,1471.1 709.4,1471.2 706.9,1477.1 704.4,1478.3 701.9,1484.3 699.5,1487 697,1487.3 694.5,1488.4 692,1489.9 689.6,1495.6 687.1,1495.1 684.6,1496.9 682.2,1501 679.7,1502.3 677.2,1502 674.7,1502.1 672.3,1501.6 669.8,1502.6 667.3,1501.8 664.9,1501.6 662.4,1502.3 659.9,1503 657.4,1501.6 655,1501.7 652.5,1503 650,1504 647.6,1500.9 645.1,1499 642.6,1499.7 640.1,1494.1 637.7,1492 635.2,1492.5 632.7,1491.6 630.2,1488.7 627.8,1481.8 625.3,1479.1 622.8,1469.3 620.4,1453.7 617.9,1434.4 615.4,1409.6 612.9,1376 610.5,1338.1 608,1297 605.5,1259 603.1,1218.7 600.6,1185.2 598.1,1157.9 595.6,1142.4 593.2,1140.1 590.7,1148.1 588.2,1160.9 585.8,1183.4 583.3,1204.8 580.8,1222.4 578.3,1245.7 575.9,1258.6 573.4,1270.1 570.9,1280 568.4,1282.7 566,1272.7 563.5,1253.4 561,1235.6 558.6,1213.1 556.1,1196.7 553.6,1177.1 551.1,1167 548.7,1170.4 546.2,1188 543.7,1213.9 541.3,1235.5 538.8,1254.4 536.3,1272.6 533.8,1287.1 531.4,1298.8 528.9,1306.3 526.4,1308.9 524,1309.2 521.5,1312.2 519,1315.4 516.5,1317 514.1,1317.2 511.6,1320.7 509.1,1322 506.6,1322.4 504.2,1326.9 501.7,1331.1 499.2,1334.8 496.8,1339.8 494.3,1342.9 491.8,1346.8 489.3,1347.7 486.9,1349.1 484.4,1352.6 481.9,1351.1 479.5,1352.1 477,1348.8 474.5,1350.1 472,1346.2 469.6,1344.7 467.1,1343.8 464.6,1341.2 462.2,1332.7 459.7,1331.2 457.2,1327.1 454.7,1322.1 452.3,1317 449.8,1310.5 447.3,1308.1 444.8,1306 442.4,1306.8 439.9,1305 437.4,1305.8 435,1309.2 432.5,1309.5 430,1314.8 427.5,1316.9 425.1,1323.3 422.6,1325.3 420.1,1328.4 417.7,1331.9 415.2,1334 412.7,1339.8 410.2,1341.3 407.8,1344.7 405.3,1348.3 402.8,1350.7 400.4,1353.2 397.9,1357.5 395.4,1358 392.9,1360.6 390.5,1360.8 388,1361.4 385.5,1364.4 383,1363.4 380.6,1361.8 378.1,1366.4 375.6,1365.2 373.2,1363.3 370.7,1366.2 368.2,1363.2 365.7,1362.6 363.3,1361.5 360.8,1363.5 358.3,1362 355.9,1361.4 353.4,1359.8 350.9,1359.6 348.4,1358.5 346,1359.2 343.5,1357.5 341,1358.6 338.6,1353.6 336.1,1353.6 333.6,1348.9 331.1,1342.4 328.7,1336.2 326.2,1326.8 323.7,1316.8 321.2,1305.1 318.8,1292 316.3,1274.6 313.8,1258.7 311.4,1241.4 308.9,1220.7 306.4,1202.3 303.9,1189.6 301.5,1172.9 299,1151.1 296.5,1133.4 294.1,1123.8 291.6,1123.2 289.1,1128.9 286.6,1140.7 284.2,1157 281.7,1170 279.2,1190.5 276.8,1207.7 274.3,1227.5 271.8,1243.5 269.3,1256.9 266.9,1266.3 264.4,1277.7 261.9,1286.8 259.4,1296.8 257,1305.2 254.5,1309 252,1314.3 249.6,1317.3 247.1,1318.5 244.6,1321.1 242.1,1324.2 239.7,1320.4 237.2,1324.4 234.7,1326.1 232.3,1324.2 229.8,1325.6 227.3,1326.6 224.8,1325.6 222.4,1325.2 219.9,1326 217.4,1325.9 215,1325.3 212.5,1324.9 210,1322.9 207.5,1324.4 205.1,1325.1 202.6,1325.1 200.1,1324.3 197.6,1326.4 195.2,1325.2 192.7,1326 190.2,1323.8 187.8,1324.1 185.3,1324.4 182.8,1323.9 180.3,1326.5 177.9,1328 175.4,1325 172.9,1325.5 170.5,1324.7 168,1323.7 165.5,1324.8 163,1322.7 160.6,1320.6 158.1,1321.3 155.6,1318.9 153.2,1319.2 150.7,1319.8 148.2,1322.3 145.7,1321.4 143.3,1321.2 140.8,1319.9 138.3,1318.9 135.8,1319 133.4,1319.1 130.9,1318.5 128.4,1317.2 126,1319.8 123.5,1316.6 121,1316.5 118.5,1315.4 116.1,1316.1 113.6,1312.1 111.1,1310.4 108.7,1312.4 106.2,1310.2 103.7,1308.5 101.2,1306.6 98.8,1308 96.3,1305.6 93.8,1302.8 91.4,1302.5 88.9,1301.2 86.4,1303.4 83.9,1301.7 81.5,1299.7 79,1299.5 76.5,1301.1 74,1300.8" stroke="none" fill="none" marker-start="url(#mk)" marker-mid="url(#mk)" marker-end="url(#mk)"/>
<path d="M629.1,1507.1L625.1,1506.3L621.8,1505.2L618.5,1503.7L616.6,1502.3L614.6,1500.4L613.3,1498.9L612,1497.1L610,1494L607.3,1489.2L605.4,1485L603.4,1480.3L602.1,1476.8L600.1,1470.9L596.8,1459.7L589.5,1433.2L586.9,1424.3L584.3,1416.2L582.3,1411L580.3,1406.8L579,1404.5L578.3,1403.6L577,1402.1L576.4,1401.6L575.7,1401.3L575,1401.1L574.4,1401L573.7,1401.1L573.1,1401.3L572.4,1401.6L571.1,1402.5L569.8,1403.9L567.8,1406.5L565.8,1409.5L561.2,1417L559.9,1418.9L558.6,1420.6L557.2,1422L555.9,1423.1L554.6,1424L552.6,1424.9L550.6,1425.4L547.4,1425.8L545.4,1425.7L543.4,1425.3L541.4,1424.6L539.4,1423.8L532.2,1420L528.9,1418.4" stroke="#0068b0" stroke-width="4.7"/>
<path d="M936.3,1626.5L931,1626.1L927.1,1625.6L923.8,1624.7L921.8,1624L920.5,1623.4L917.8,1621.9L916.5,1620.9L915.2,1619.7L913.9,1618.3L912.6,1616.8L911.2,1615L909.9,1613L907.9,1609.5L906,1605.4L904,1600.8L902,1595.6L900,1589.8L898,1583.7L889.5,1555.8L887.5,1550L886.2,1546.5L884.2,1542L882.2,1538.4L880.9,1536.6L880.2,1536L878.9,1535L878.3,1534.8L877.6,1534.7L877,1534.8L876.3,1535.1L875.6,1535.6L875,1536.2L874.3,1537L873,1539L871,1542.7L869,1547L862.5,1562.8L859.8,1568.6L857.8,1572.1L856.5,1573.9L855.2,1575.4L854.5,1576L853.2,1577L852.6,1577.3L851.2,1577.9L849.3,1578.2L847.9,1578.1L846.6,1578L845.3,1577.7L844,1577.2L842,1576.3L839.4,1574.7L828.8,1567" stroke="#0068b0" stroke-width="4.7"/>
<path d="M615.3,1503.9L612.6,1502.2L610,1500.1L606,1496.4L602.7,1493.2L600.7,1490.8L598.8,1488.1L594.2,1480.9L588.2,1470.9L586.2,1467L584.9,1464.1L583,1459.2L581.6,1455.4L579.7,1449L578.3,1444L577,1438.4L575.7,1432.1L573.7,1421.2L571.7,1408.4L569.8,1393.6L568.4,1382.6L566.5,1364.7L559.2,1293.7L557.9,1282.1L556.6,1271.9L555.3,1263.2L553.9,1256.4L553.3,1253.9L552.6,1251.9L552,1250.5L551.3,1249.7L550.6,1249.8L550,1250.6L549.3,1252.3L548.7,1254.8L547.4,1262L546,1271.5L544.7,1282.7L538.8,1341.1L537.5,1353L536.1,1363.8L534.2,1377.7L532.9,1385.4L532.2,1388.8L530.9,1394.6L530.2,1397.1L528.9,1401.3L528.2,1403L526.9,1405.8L526.3,1406.9L524.9,1408.7L524.3,1409.3L523,1410.3L521.6,1410.9L520.3,1411.3L519,1411.4L517.7,1411.3L514.4,1410.8L510.4,1409.9L497.9,1406.6" stroke="#ff8000" stroke-width="4.7"/>
<path d="M911.2,1626.2L906.6,1625.8L902,1625.2L898.7,1624.6L896.1,1623.9L894.1,1623.2L892.1,1622.2L890.1,1620.8L888.8,1619.5L887.5,1617.8L886.2,1615.7L884.9,1613.1L883.5,1609.9L882.2,1605.9L880.9,1601.1L878.9,1592L877,1580.3L875,1565.7L873,1548L871.7,1534.2L870.4,1519L868.4,1493.8L861.8,1402.4L859.8,1378.1L858.5,1364.1L857.2,1352.3L855.9,1343.1L855.2,1339.6L854.5,1336.9L853.9,1334.9L853.2,1333.7L852.6,1333.3L851.9,1333.8L851.2,1335L850.6,1336.9L849.9,1339.7L849.3,1343.1L847.9,1351.9L846.6,1363.1L845.3,1376.2L843.3,1398.1L838.1,1459.8L836.1,1480.6L834.8,1493.1L832.8,1509.4L831.5,1518.7L829.5,1530.2L828.8,1533.5L827.5,1539.1L826.9,1541.5L825.5,1545.5L824.2,1548.7L822.9,1551.1L821.6,1552.9L820.3,1554.2L818.9,1555L817.6,1555.5L816.3,1555.7L815,1555.7L813,1555.3L811,1554.8L808.4,1553.9L805.8,1552.8L795.9,1548.5" stroke="#ff8000" stroke-width="4.7"/>
<path d="M632.1,1507.5L628.1,1507L624.2,1506.3L619.5,1505.3L617.6,1504.7L615.6,1503.8L613.6,1502.5L611.6,1501.1L609.6,1499.4L607,1497L603.7,1493.7L602.4,1492.3L600.4,1489.8L598.4,1486.9L596.5,1483.8L586.6,1467.7L583.3,1462L570.1,1438.4L566.8,1431.9L563.5,1424.8L560.2,1416.6L557.6,1409.2L554.9,1400.9L549,1381.3L545,1368.9L540.4,1355.1L537.1,1346.2L535.2,1341.3L533.8,1338.4L531.9,1334.4L530.5,1332.1L529.2,1330.1L527.2,1327.5L525.3,1325.6L524,1324.6L522.6,1324L521.3,1323.6L520,1323.7L518.7,1324.1L517.4,1324.9L516,1325.9L514.7,1327.3L513.4,1329L512.1,1330.9L510.8,1333.1L508.1,1337.9L504.8,1344.8L498.9,1357.8L495.6,1364.8L492.3,1371.2L489.7,1375.8L486.4,1380.8L485.1,1382.6L483.1,1385L481.8,1386.5L479.8,1388.4L477.8,1390L475.8,1391.4L473.9,1392.5L471.9,1393.4L469.9,1394.1L467.3,1394.7L465.3,1395L462.6,1395.1L460,1395L457.4,1394.8L454.7,1394.4L452.8,1393.9L447.5,1392.4L442.2,1390.4L429,1385.2" stroke="#6aa814" stroke-width="4.7"/>
<path d="M955.1,1626.5L932,1626.1L918.2,1625.6L913.5,1625.2L909.6,1624.6L905.6,1623.9L901.7,1622.9L897.7,1621.6L894.4,1620.2L891.1,1618.5L888.5,1616.7L885.9,1614.4L883.2,1611.6L880.6,1608.3L877.9,1604.5L876,1601.2L874,1597.5L872.7,1594.8L870.7,1590L868.7,1584.6L866.7,1578.6L864.8,1572.1L862.1,1562.9L859.5,1553.1L856.2,1539.7L847,1498.6L840.4,1470.5L836.4,1454.8L834.4,1447.6L832.5,1440.9L830.5,1434.8L828.5,1429.3L826.5,1424.6L825.2,1421.9L823.2,1418.5L821.9,1416.7L820.6,1415.2L819.9,1414.6L818.6,1413.7L818,1413.5L817.3,1413.4L816.6,1413.4L816,1413.5L815.3,1413.8L814,1414.8L812.7,1416.2L811.4,1418.1L810,1420.5L808.7,1423.3L806.1,1429.9L803.5,1437.6L800.2,1448.2L793.6,1470.7L790.9,1479.4L787.6,1489.5L784.3,1498.5L782.4,1503.3L781,1506.3L779.7,1509L777.7,1512.7L776.4,1514.9L774.4,1517.8L772.5,1520.3L770.5,1522.3L769.2,1523.5L767.2,1524.9L765.2,1525.9L763.2,1526.7L761.3,1527.2L759.3,1527.4L757.3,1527.4L755.3,1527.2L752,1526.6L748.1,1525.4L744.1,1524L734.2,1520.1L728.3,1518.1L725.7,1517.4L717.8,1515.5L707.9,1513.3" stroke="#6aa814" stroke-width="4.7"/>
<path d="M579.3,1463.1L576.7,1460.2L573.4,1457.3L570.8,1455.2L563.5,1449.9L561.5,1448.3L559.5,1446.5L556.9,1443.7L551.6,1437L549,1433.9L543.1,1428.1L537.8,1423.3L534.5,1420.5L531.2,1418.1L518,1409.5L514.1,1406.8L510.8,1404.3L507.5,1401.7L504.8,1399.4L501.5,1396.3L498.9,1393.6L495.6,1389.8L492.3,1385.7L488.4,1380.3L484.4,1374.4L481.1,1369.2L477.8,1363.7L463.3,1338.7L460,1333.4L456.7,1328.6L454.7,1325.9L452.8,1323.5L450.8,1321.3L449.5,1320L447.5,1318.3L446.2,1317.3L444.2,1316.1L442.9,1315.5L441.6,1315.1L439.6,1314.9L438.3,1314.9L436.3,1315.4L435,1315.9L433,1317L431.7,1317.9L429.7,1319.6L428.4,1320.8L426.4,1323L423.1,1327L419.8,1331.4L412.5,1341.9L409.3,1346.5L405.3,1351.6L402,1355.4L398,1359.4L396.1,1361.1L394.1,1362.7L392.1,1364.1L390.1,1365.4L388.2,1366.5L385.5,1367.7L383.5,1368.5L380.9,1369.3L378.3,1369.9L375.6,1370.3L373,1370.6L370.4,1370.8L367.1,1370.9L363.8,1370.8L359.2,1370.6L349.9,1369.9L337.4,1368.7L332.1,1368L327.5,1367.2L323.6,1366.4L320.3,1365.6" stroke="#ff7070" stroke-width="4.7"/>
<path d="M879.6,1620.8L875.6,1618.9L873,1617.3L871,1615.7L868.4,1612.9L865.7,1609.8L859.2,1601.4L856.5,1597.6L849.9,1587.7L846.6,1583.3L842,1577.9L836.7,1572.1L832.1,1567.2L822.9,1557.8L818.3,1552.7L815,1548.7L812.4,1545.2L809.7,1541.3L807.1,1537.1L805.1,1533.6L803.1,1529.9L799.8,1523.1L795.9,1513.9L791.9,1503.7L788.6,1494.4L785.3,1484.5L774.8,1451.2L771.5,1441.1L768.2,1431.7L765.5,1424.8L763.6,1420.2L762.3,1417.5L760.3,1413.7L759,1411.6L757,1408.9L755.7,1407.4L754.3,1406.3L753.7,1405.8L752.4,1405.2L751,1404.8L750.4,1404.6L749.1,1404.6L747.8,1404.9L745.8,1405.7L744.5,1406.5L742.5,1408.2L740.5,1410.4L738.5,1413L737.2,1414.9L735.2,1418.2L733.2,1421.8L731.3,1425.6L727.3,1434L719.4,1451.7L715.4,1460.2L710.8,1469.3L706.9,1476.3L704.2,1480.5L702.3,1483.4L700.3,1486.1L697.7,1489.4L695.7,1491.6L693,1494.2L690.4,1496.5L687.8,1498.5L685.1,1500.2L681.8,1502L678.5,1503.4L674.6,1504.8L670.6,1505.7L666.7,1506.4L662.1,1507L656.8,1507.3L649.5,1507.6L642.3,1507.7L635.7,1507.5L629.8,1507L623.8,1506.2L618.5,1505.2L617.2,1504.8L615.9,1504.2L613.3,1502.7" stroke="#ff7070" stroke-width="4.7"/>
<path d="M670.3,1509.2L653.8,1507.7L649.2,1507.2L645.9,1506.7L642.6,1506.1L640,1505.3L638,1504.5L636,1503.4L634,1501.8L632.7,1500.5L630.7,1497.9L629.4,1495.6L628.1,1492.8L626.8,1489.4L625.5,1485.2L624.2,1480.3L622.2,1471.1L620.2,1459.4L618.2,1444.9L616.2,1427.3L614.3,1406.4L611.6,1374.1L609.6,1347.1L604.4,1271.8L602.4,1245.7L601.1,1230.1L599.1,1210.3L597.8,1200.1L597.1,1196L596.5,1192.7L595.8,1190.2L595.1,1188.5L594.5,1187.5L593.8,1187.4L593.2,1188.1L592.5,1189.7L591.8,1192.1L591.2,1195.2L590.5,1199.1L589.2,1208.9L587.9,1221.1L586.6,1235L584.6,1258.4L578.7,1332.2L576.7,1354.4L574.7,1374L572.7,1390.9L570.8,1404.8L568.8,1415.8L567.5,1421.7L566.1,1426.5L565.5,1428.5L564.2,1431.9L562.8,1434.4L561.5,1436.3L560.9,1436.9L559.5,1437.8L558.9,1438L558.2,1438.1L556.9,1437.9L555.6,1437.4L553.6,1436.1L549,1432.2L541.8,1426.5L538.5,1423.9L535.2,1421.6L532.5,1420L529.9,1418.6L525.9,1416.8L521.3,1414.9" stroke="#00a0ff" stroke-width="4.7"/>
<path d="M978.8,1627L920.8,1627L912.9,1626.8L907.6,1626.5L902.3,1626.1L891.8,1625L887.8,1624.2L883.9,1623L879.9,1621.5L874.6,1618.9L873.3,1618.1L872,1617.2L870.7,1616L869.4,1614.7L866.7,1611.7L860.1,1603.5L857.5,1600L849.6,1588.5L847,1585.1L845.6,1583.6L840.4,1577.9L835.1,1572.8L832.5,1570.4L829.8,1568.3L825.9,1565.4L820.6,1561.9L814,1558.1L807.4,1554.6L798.2,1550.1L792.9,1547.6L787.6,1545.4L769.2,1537.8L761.3,1534.5L754.7,1531.3L741.5,1524.6L736.2,1522.2L732.3,1520.5L728.3,1519.1L725.7,1518.3L720.4,1516.8L713.8,1515.2L707.2,1513.7L701.9,1512.6L696.7,1511.8L688.8,1510.8L678.2,1510.1L659.7,1509.3L642.6,1508.8L634.7,1508.3L628.1,1507.5L622.8,1506.7L618.9,1505.9L617.6,1505.5L616.2,1504.9L613.6,1503.5L611,1501.6L607,1498.2L603.1,1494.6L601.7,1493.2L599.1,1489.9L589.9,1477L582,1466.8L578,1462.1L575.4,1459.5L572.7,1457.3L563.5,1450.7L560.9,1448.5L559.5,1447.3L556.9,1444.5L550.3,1436.4L547.7,1433.7L543.7,1430L539.8,1426.5L537.1,1424.3L534.5,1422.4L531.9,1420.6L529.2,1419.1L525.3,1417.2L521.3,1415.4L516,1413.2L510.8,1411.3L505.5,1409.5L489.7,1404.7L481.8,1402.7L463.3,1398.4L458,1397L454.1,1395.8L450.1,1394.4L446.2,1392.9L433,1387.3L427.7,1385.2L422.4,1383.4L418.5,1382.3L409.3,1380.3L397.4,1378.2L357.8,1372.1L339.4,1369.8L332.8,1368.8L324.9,1367.3L322.2,1366.7L319.6,1365.9L317,1365L313,1363.4L309.1,1361.5L305.1,1359.4L303.8,1358.5L301.1,1356.4L298.5,1353.9L291.9,1347.2L289.3,1344.8L288,1343.8L281.4,1339.4L278.7,1337.8L276.1,1336.3L272.1,1334.5L268.2,1333.2L262.9,1331.9L256.3,1330.6L251,1330L241.8,1329.1L237.9,1328.8L233.9,1328.7L222,1328.9L208.9,1328.9" stroke="#8f9bff" stroke-width="4.7"/>
<path d="M978.8,1626.7L951.8,1626.2L943.2,1625.9L936.6,1625.5L932,1625.1L928,1624.4L924.7,1623.6L922.1,1622.6L920.1,1621.5L918.8,1620.7L917.5,1619.7L916.2,1618.5L914.9,1617.2L913.5,1615.6L911.6,1612.9L910.2,1610.8L908.9,1608.4L906.9,1604.3L905,1599.6L902.3,1592.3L899,1581.6L895.7,1569.6L891.8,1553.8L887.8,1536.6L884.5,1521.2L881.9,1507.7L879.3,1492.5L877.3,1479.6L875.3,1465.2L874,1454.6L872.7,1443.1L870.7,1423.7L869.4,1409.4L867.4,1386.2L861.5,1312.5L859.5,1290.6L858.2,1277.7L856.8,1266.7L856.2,1262.1L854.9,1254.6L854.2,1251.8L853.6,1249.7L852.9,1248.4L852.2,1247.7L851.6,1247.7L850.9,1248.3L850.3,1249.7L849.6,1251.6L848.9,1254.2L848.3,1257.4L847,1265.2L845.6,1274.8L844.3,1285.7L839.7,1327.4L837.7,1344.3L835.8,1359.2L833.8,1371.8L831.8,1381.7L831.1,1384.4L829.8,1389.1L829.2,1391.1L827.8,1394.3L827.2,1395.5L825.9,1397.5L824.5,1398.9L823.2,1399.7L822.6,1400L821.3,1400.3L817.3,1400.3L815.3,1400.8L813.3,1401.8L811.4,1403.3L809.4,1405.5L806.7,1409.1L804.1,1413.4L797.5,1424.7L795.5,1427.7L793.6,1430.3L791.6,1432.5L789.6,1434.2L787.6,1435.3L786.3,1435.7L785.7,1435.8L785,1435.8L783.7,1435.6L783,1435.5L781.7,1434.9L779.7,1433.6L778.4,1432.5L777.1,1431.1L775.1,1428.7L772.5,1425.1L765.9,1414.8L763.2,1410.9L760.6,1407.4L759.3,1405.9L758,1404.6L756.6,1403.6L755.3,1402.7L754,1402.1L752.7,1401.7L751.4,1401.6L750.1,1401.7L748.7,1402L747.4,1402.5L746.1,1403.2L744.8,1404.2L743.5,1405.4L741.5,1407.5L740.2,1409.2L738.2,1412L734.9,1417.5L732.3,1422.5L729,1429.4L719.7,1450.2L715.1,1460.2L710.5,1469.3L706.6,1476.3L702.6,1482.5L700.6,1485.2L698.6,1487.7L696.7,1490L694.7,1492.1L692.7,1494L690.7,1495.8L687.4,1498.3L684.8,1499.9L681.5,1501.6L678.2,1503L674.9,1504L671,1504.8L667,1505.4L662.4,1505.7L656.5,1505.7L650.5,1505.5L645.9,1504.9L641.9,1504.2L640,1503.5L638.7,1503L637.3,1502.4L636,1501.6L634,1500L632.1,1497.8L630.1,1494.7L628.8,1492.1L628.1,1490.6L626.8,1487.1L626.1,1485L624.2,1477.6L622.2,1468.1L620.9,1460.3L618.9,1446.2L617.6,1435.1L616.2,1422.4L614.9,1408.1L612.3,1375.3L609.6,1337.6L603.1,1235.7L601.1,1208L599.8,1191.5L597.8,1170.9L596.5,1160.3L595.8,1156.2L595.1,1152.7L594.5,1150L593.8,1148.2L593.2,1147.1L592.5,1146.8L591.8,1147.4L591.2,1148.6L590.5,1150.6L589.9,1153.3L589.2,1156.6L587.9,1164.8L585.9,1180.3L580.6,1229L579.3,1240.5L578,1251L576.7,1260.2L575.4,1267.8L574.1,1273.8L573.4,1276L572.7,1277.8L572.1,1279.1L571.4,1279.9L570.8,1280.2L570.1,1280L569.4,1279.3L568.8,1278.1L568.1,1276.5L566.8,1271.9L565.5,1265.7L563.5,1254L562.2,1245L557.6,1211.6L556.3,1203L554.9,1195.6L553.6,1189.8L553,1187.5L552.3,1185.7L551.6,1184.5L551,1183.8L550.3,1184L549.7,1184.8L549,1186.5L548.3,1188.8L547.7,1191.7L546.4,1199.2L544.4,1213.7L538.5,1263.2L537.1,1272.9L535.8,1281.5L534.5,1288.9L533.2,1295.1L531.9,1300.2L530.5,1304.2L529.9,1305.9L528.6,1308.6L527.2,1310.7L525.9,1312.1L525.3,1312.7L524,1313.6L520,1315.5L518.7,1316.3L517.4,1317.2L515.4,1318.9L512.7,1321.9L510.8,1324.5L508.8,1327.4L502.2,1338.1L499.6,1342.3L496.9,1346L494.9,1348.4L493,1350.4L491,1352L489,1353.3L487,1354L485.7,1354.3L484.4,1354.4L483.1,1354.3L481.8,1353.9L480.4,1353.5L479.1,1352.8L477.8,1352L475.8,1350.4L473.2,1347.9L469.9,1344.2L466.6,1339.9L457.4,1327.5L454.1,1323.5L451.4,1320.7L449.5,1318.8L448.1,1317.7L445.5,1315.9L443.5,1314.9L442.2,1314.5L440.9,1314.2L439.6,1314.1L438.3,1314.2L436.9,1314.5L435.6,1315L434.3,1315.6L433,1316.4L431.7,1317.3L429,1319.7L426.4,1322.5L423.1,1326.5L419.8,1331L412.5,1341.5L409.3,1346.1L406,1350.4L402.7,1354.3L398.7,1358.4L396.7,1360.2L394.7,1361.8L392.8,1363.2L390.8,1364.5L388.8,1365.6L386.8,1366.6L384.2,1367.6L381.6,1368.4L378.3,1369.1L375,1369.6L371.7,1369.8L367.7,1369.8L363.8,1369.5L359.2,1369L354.5,1368.3L351.2,1367.6L348.6,1366.9L346,1365.9L343.3,1364.6L341.4,1363.4L339.4,1361.8L337.4,1359.8L335.4,1357.3L333.4,1354.2L331.5,1350.3L329.5,1345.6L327.5,1339.8L325.5,1333L323.6,1325L322.2,1318.9L320.9,1312.2L318.9,1301.1L317,1288.6L315,1275L311.7,1250.1L303.8,1187.1L301.8,1172.6L299.8,1159.6L298.5,1152.1L297.2,1145.5L295.9,1140.2L295.2,1138L294.6,1136.1L293.9,1134.6L293.2,1133.4L292.6,1132.6L291.9,1132.1L291.3,1132L290.6,1132.3L289.9,1132.9L289.3,1133.9L288.6,1135.2L287.3,1138.9L286.6,1141.2L285.3,1146.6L283.3,1156.5L282,1164.1L280,1176.6L272.1,1231.7L268.8,1253.2L266.9,1264.8L265.5,1272L263.6,1281.6L262.2,1287.4L260.9,1292.6L259,1299.5L257,1305.2L255,1310L253,1313.8L251,1316.9L249.1,1319.4L247.7,1320.7L246.4,1321.8L244.5,1323.1L242.5,1324.1L240.5,1324.8L237.9,1325.6L235.2,1326.1L229.9,1326.9L226,1327.3L221.4,1327.6L208.9,1328.1L203.6,1328.2L197.6,1328L190.4,1327.8L185.1,1327.5L178.5,1327L171.3,1326.3L164,1325.4L140.3,1321.6L134.4,1320.6L129.1,1319.4L122.5,1317.7L111.3,1314.4L96.8,1309.5L92.2,1308.1L72.4,1302.7" stroke="#808080" stroke-width="5.4"/>
</g>
<rect x="72.4" y="967" width="906.5" height="732.1" fill="none" stroke="#000" stroke-width="5.3"/>
<path d="M154.8,1699.1v-8.5M237.2,1699.1v-17.5M319.6,1699.1v-8.5M402,1699.1v-17.5M484.4,1699.1v-8.5M566.8,1699.1v-17.5M649.2,1699.1v-8.5M731.6,1699.1v-17.5M814,1699.1v-8.5M896.4,1699.1v-17.5" stroke="#000" stroke-width="5" fill="none"/>
<text x="72.4" y="1748.4" font-size="37.2" text-anchor="middle">930</text>
<text x="237.2" y="1748.4" font-size="37.2" text-anchor="middle">920</text>
<text x="402" y="1748.4" font-size="37.2" text-anchor="middle">910</text>
<text x="566.8" y="1748.4" font-size="37.2" text-anchor="middle">900</text>
<text x="731.6" y="1748.4" font-size="37.2" text-anchor="middle">890</text>
<text x="896.4" y="1748.4" font-size="37.2" text-anchor="middle">880</text>
<text x="525.4" y="1801.9" font-size="44.6" text-anchor="middle">Binding Energy (eV)</text>
<text x="501.7" y="1866.6" font-size="47.3" text-anchor="middle" font-weight="normal">(b)</text>
<text transform="translate(31.6,1459.1) rotate(-90)" font-size="44.6">Intensity (a.u.)</text>
<text x="961.6" y="1010.4" font-size="34.3" text-anchor="end">Propionic Acid</text>
<circle cx="116.5" cy="991.3" r="4" fill="none" stroke="#383838" stroke-width="0.9"/>
<path d="M85.2,1026.2H147.7" stroke="#808080" stroke-width="5.5"/>
<path d="M85.2,1061.1H147.7" stroke="#8f9bff" stroke-width="5.5"/>
<path d="M85.2,1100H147.7" stroke="#0068b0" stroke-width="5.5"/>
<path d="M85.2,1138.7H147.7" stroke="#ff8000" stroke-width="5.5"/>
<path d="M85.2,1177.4H147.7" stroke="#6aa814" stroke-width="5.5"/>
<path d="M85.2,1215.9H147.7" stroke="#ff7070" stroke-width="5.5"/>
<path d="M85.2,1254.5H147.7" stroke="#00a0ff" stroke-width="5.5"/>
<text x="155.3" y="1000.2" font-size="27.2">experimental data</text>
<text x="155.3" y="1035.1" font-size="27.2">fitting line</text>
<text x="155.3" y="1070" font-size="27.2">bkg.</text>
<text x="155.3" y="1109.6" font-size="27.2">Ce<tspan dy="-10.5" font-size="18.5">3+</tspan></text>
<text x="155.3" y="1148.3" font-size="27.2">Ce<tspan dy="-10.5" font-size="18.5">4+</tspan></text>
<text x="155.3" y="1187" font-size="27.2">Ce<tspan dy="-10.5" font-size="18.5">3+</tspan></text>
<text x="155.3" y="1225.5" font-size="27.2">Ce<tspan dy="-10.5" font-size="18.5">4+</tspan></text>
<text x="155.3" y="1264.1" font-size="27.2">Ce<tspan dy="-10.5" font-size="18.5">4+</tspan></text>
<text x="474.5" y="1154.3" font-size="26.5">Ce 3d<tspan dy="7.2" font-size="18.2">3/2</tspan></text>
<text x="781.7" y="1224" font-size="26.5">Ce 3d<tspan dy="7.2" font-size="18.2">5/2</tspan></text>
<clipPath id="cc"><rect x="1160.2" y="2.5" width="906.5" height="732.1"/></clipPath>
<g clip-path="url(#cc)" fill="none" stroke-linejoin="round" stroke-linecap="butt">
<polyline points="2066.6,628.4 2063.3,630.6 2060,629.6 2056.7,630.5 2053.4,632.1 2050.1,631.7 2046.8,631.9 2043.5,631.1 2040.2,631.6 2036.9,628.1 2033.6,627.7 2030.3,627.4 2027,629.5 2023.8,628.1 2020.5,629.6 2017.2,629.5 2013.9,629.4 2010.6,629.7 2007.3,626.7 2004,624.3 2000.7,620.5 1997.4,618.4 1994.1,614.3 1990.8,608 1987.5,603.5 1984.2,597 1980.9,587.5 1977.6,580.4 1974.3,571 1971,554.7 1967.7,540.9 1964.4,522.9 1961.1,495.8 1957.8,465.6 1954.5,430.9 1951.2,390.8 1947.9,349 1944.6,306.6 1941.4,275.4 1938.1,256.7 1934.8,250.3 1931.5,260.7 1928.2,280.1 1924.9,309 1921.6,342.1 1918.3,368.2 1915,390.4 1911.7,410.4 1908.4,422.4 1905.1,431.4 1901.8,434.7 1898.5,436 1895.2,437.4 1891.9,438 1888.6,441.6 1885.3,445.2 1882,446.7 1878.7,451.5 1875.4,455.2 1872.1,457.6 1868.8,459.2 1865.5,458.5 1862.2,454.7 1859,452.4 1855.7,450.1 1852.4,446.4 1849.1,440.2 1845.8,436.5 1842.5,435.2 1839.2,434.2 1835.9,429.6 1832.6,429.3 1829.3,431.8 1826,435.5 1822.7,437.3 1819.4,443.7 1816.1,447.5 1812.8,455.3 1809.5,459.4 1806.2,466 1802.9,474.4 1799.6,478 1796.3,484.6 1793,492 1789.7,498.2 1786.4,501.8 1783.1,502.9 1779.8,510.7 1776.6,513.1 1773.3,515.2 1770,516.4 1766.7,521.2 1763.4,523.9 1760.1,524.2 1756.8,526.6 1753.5,525.1 1750.2,527 1746.9,526.8 1743.6,526.4 1740.3,527.2 1737,527 1733.7,525.9 1730.4,523.4 1727.1,521.7 1723.8,519.7 1720.5,517.8 1717.2,514.3 1713.9,515.6 1710.6,509.3 1707.3,504.2 1704,491.1 1700.7,468.3 1697.4,442 1694.2,405 1690.9,360.5 1687.6,309.6 1684.3,259.7 1681,216.7 1677.7,184 1674.4,176.9 1671.1,189.5 1667.8,217.4 1664.5,250.6 1661.2,284.5 1657.9,317.2 1654.6,342.3 1651.3,349.4 1648,335.6 1644.7,316.6 1641.4,286.3 1638.1,257.6 1634.8,230 1631.5,218.3 1628.2,226.6 1624.9,249.8 1621.6,277.2 1618.3,305.9 1615,330.7 1611.8,349.7 1608.5,359.2 1605.2,367 1601.9,369.5 1598.6,367.6 1595.3,367.7 1592,366.6 1588.7,369.5 1585.4,372.4 1582.1,373.6 1578.8,378.4 1575.5,381.4 1572.2,382.8 1568.9,382.7 1565.6,384.7 1562.3,384.1 1559,384.6 1555.7,386.8 1552.4,382.2 1549.1,380.1 1545.8,376.2 1542.5,371 1539.2,365.7 1535.9,360.7 1532.6,356.8 1529.4,353.7 1526.1,353.9 1522.8,354.1 1519.5,355.3 1516.2,357.7 1512.9,361.5 1509.6,363.5 1506.3,367.6 1503,372.8 1499.7,373.6 1496.4,379.5 1493.1,384.1 1489.8,385 1486.5,390.5 1483.2,392.8 1479.9,395 1476.6,399.1 1473.3,399.5 1470,401.6 1466.7,402.1 1463.4,401.6 1460.1,402.4 1456.8,401.9 1453.5,402.9 1450.2,400.5 1447,399.9 1443.7,398.8 1440.4,399.1 1437.1,399.1 1433.8,400.7 1430.5,399.8 1427.2,397.7 1423.9,399.8 1420.6,398.8 1417.3,399.2 1414,395.1 1410.7,390.2 1407.4,381.4 1404.1,368.2 1400.8,355.8 1397.5,340.6 1394.2,319.7 1390.9,299.7 1387.6,269.8 1384.3,235.4 1381,202.3 1377.7,180.3 1374.4,168.8 1371.1,173.5 1367.8,190.5 1364.6,216.3 1361.3,246.3 1358,276.3 1354.7,298 1351.4,317.7 1348.1,330.6 1344.8,346.3 1341.5,352.5 1338.2,358.4 1334.9,364 1331.6,362.2 1328.3,364.7 1325,365.1 1321.7,368.2 1318.4,365.7 1315.1,367.7 1311.8,368.2 1308.5,368 1305.2,368.3 1301.9,367.5 1298.6,365.7 1295.3,366.7 1292,364.6 1288.7,367.6 1285.4,366.9 1282.2,364.7 1278.9,367.9 1275.6,366.5 1272.3,365.3 1269,365.6 1265.7,367.1 1262.4,365.8 1259.1,364.6 1255.8,366.1 1252.5,365.2 1249.2,365 1245.9,363.9 1242.6,365.1 1239.3,364.3 1236,362.1 1232.7,362.2 1229.4,361.1 1226.1,361.7 1222.8,360.4 1219.5,363.7 1216.2,361.5 1212.9,361.3 1209.6,359.1 1206.3,360.4 1203,357.6 1199.8,354.4 1196.5,356.6 1193.2,354.2 1189.9,352.7 1186.6,353.3 1183.3,352.2 1180,352.9 1176.7,351.7 1173.4,349.2 1170.1,350.9 1166.8,351 1163.5,346.2 1160.2,349.1" stroke="none" fill="none" marker-start="url(#mk)" marker-mid="url(#mk)" marker-end="url(#mk)"/>
<path d="M1719.5,531.6L1715.6,530.8L1711.6,529.7L1707.7,528.3L1705,527.1L1702.4,525.2L1699.8,522.9L1697.1,520.1L1693.8,515.9L1691.8,513.1L1689.9,510L1687.9,506.4L1685.3,501.2L1682.6,495.5L1676.7,482.1L1670.8,468.1L1668.8,463.8L1667.5,461.2L1665.5,457.8L1664.2,455.9L1662.8,454.4L1660.9,452.5L1659.5,451.6L1657.6,450.7L1656.2,450.4L1654.3,450.2L1651.6,450.5L1647,451.6L1644.4,452.1L1635.2,453.3L1632.5,453.5L1629.2,453.4L1627.2,453.1L1624.6,452.7L1616.7,450.7L1612.1,449.4L1605.5,447.3" stroke="#0068b0" stroke-width="4.7"/>
<path d="M2022.4,631.4L2018.5,631.1L2014.5,630.6L2011.2,630L2007.9,629L2005.3,627.8L2002.7,626.4L2000,624.5L1998,622.8L1996.1,620.7L1994.1,618.4L1992.1,615.7L1989.5,611.7L1985.5,604.9L1977.6,590.2L1975.6,586.9L1973.7,583.9L1971.7,581.2L1969.7,579L1967.7,577.4L1965.7,576.3L1964.4,575.8L1962.4,575.4L1961.1,575.3L1959.2,575.4L1957.2,575.7L1953.2,576.9L1950.6,577.5L1942,579.4L1940,579.6L1937.4,579.5L1932.1,578.7L1930.1,578.5L1923.6,578.7L1919.6,578.6L1916.3,578.2L1913.7,577.8L1911,577.2L1907.7,576.3L1900.5,573.9L1889.9,570" stroke="#0068b0" stroke-width="4.7"/>
<path d="M1693.2,523.3L1690.5,521.4L1688.5,519.7L1686.6,517.8L1683.9,514.9L1680.6,511.1L1676.7,506.2L1674.7,503.5L1672.7,500.5L1670.1,496.1L1666.8,490.3L1664.2,485.4L1662.2,481.2L1660.9,478L1659.5,474.4L1658.2,470.2L1656.9,465.2L1654.9,456.3L1653,445.3L1651,431.9L1649,415.9L1647.7,403.9L1645.7,384.2L1639.8,320.4L1638.4,307.5L1637.1,295.9L1635.8,286.2L1634.5,278.6L1633.8,275.6L1633.2,273.2L1632.5,271.5L1631.9,270.5L1631.2,270.1L1630.5,270.5L1629.9,271.6L1629.2,273.4L1628.6,275.9L1627.9,279L1626.6,287L1625.3,297L1623.9,308.4L1618,366.1L1616,383.5L1614.7,393.8L1613.4,403L1611.4,414.6L1609.4,423.5L1608.8,426L1607.5,430.2L1606.8,431.9L1605.5,434.8L1604.8,436L1603.5,438L1602.2,439.4L1600.9,440.4L1599.6,441L1598.2,441.4L1596.9,441.6L1594.9,441.7L1593,441.5L1591,441.2L1586.4,440.3L1573.8,437.5" stroke="#ff8000" stroke-width="4.7"/>
<path d="M2010.6,631.4L1998.7,631L1995.4,630.6L1992.1,630.1L1989.5,629.5L1986.8,628.6L1984.2,627.3L1982.2,626L1980.2,624.2L1978.3,621.8L1976.3,618.7L1975,616.1L1973.7,613L1972.3,609.3L1971,604.9L1969.7,599.8L1968.4,593.9L1967.1,587L1965.7,579.2L1964.4,570.4L1962.4,555.2L1959.8,531.3L1957.8,510.8L1955.2,480.6L1947.3,382.2L1945.3,360.5L1944,347.7L1942,331.8L1940.7,323.6L1940,320.3L1939.4,317.5L1938.7,315.3L1938.1,313.6L1937.4,312.6L1936.7,312.1L1936.1,312.3L1935.4,313L1934.8,314.3L1934.1,316.2L1933.4,318.6L1932.1,325.1L1931.5,329.1L1930.1,338.5L1928.8,349.6L1926.8,368.7L1918.9,454.8L1917,474.6L1915,492.6L1913.7,503.4L1912.3,513.3L1910.4,526.2L1908.4,536.9L1907.1,542.9L1905.8,548L1904.4,552.3L1903.1,555.9L1901.8,558.8L1900.5,561.2L1899.2,563.1L1898.5,563.9L1897.2,565.2L1895.9,566.1L1893.9,567L1891.9,567.4L1889.9,567.5L1888,567.3L1885.3,566.8L1880,565.3L1864.9,560.2" stroke="#ff8000" stroke-width="4.7"/>
<path d="M1691.5,522.2L1688.9,520.1L1685.6,516.9L1682.3,513.3L1677,507.1L1674.4,503.6L1667.8,493.8L1665.1,490.2L1662.5,487.1L1655.9,479.9L1653.3,476.9L1650.6,473.6L1648,469.8L1646,466.6L1644.1,462.9L1639.4,453.6L1632.8,439.5L1621,412.4L1618.3,406.8L1615,400.4L1613.1,396.9L1611.1,393.6L1609.1,390.7L1607.8,389L1605.8,386.8L1604.5,385.5L1603.2,384.5L1601.9,383.7L1600.5,383L1599.2,382.6L1597.9,382.4L1595.9,382.4L1594.6,382.7L1592.6,383.5L1591.3,384.2L1589.3,385.5L1588,386.6L1586,388.4L1582.7,391.9L1579.5,395.8L1572.2,404.9L1568.9,408.9L1565.6,412.6L1563,415.3L1559.7,418.3L1556.4,420.8L1553.1,422.8L1549.8,424.3L1546.5,425.3L1544.5,425.7L1542.5,426L1540.6,426.1L1538.6,426.1L1534.6,425.8L1531.3,425.3L1527.4,424.4L1512.9,420.6L1506.3,419" stroke="#6aa814" stroke-width="4.7"/>
<path d="M2011.6,631.4L1998.4,631.1L1994.4,630.9L1990.5,630.5L1985.8,629.8L1981.2,628.9L1976.6,627.8L1972.7,626.6L1970,625.5L1967.4,624.2L1964.8,622.5L1962.1,620.5L1959.5,618.2L1957.5,616.1L1955.5,613.8L1953.5,611L1950.9,606.5L1949.6,603.9L1947.6,599.7L1945.6,595L1943.7,590.1L1941.7,584.8L1940.4,580.9L1938.4,574.6L1936.4,568L1929.2,541.9L1919.3,507.4L1915.3,494.5L1913.3,488.5L1911.4,482.9L1909.4,477.8L1908.1,474.7L1906.1,470.5L1904.8,468.1L1902.8,465.2L1901.5,463.6L1900.2,462.4L1899.5,461.9L1898.2,461.2L1897.5,461L1896.2,460.9L1894.9,461.3L1893.6,462.1L1892.2,463.3L1890.9,464.9L1889.6,466.8L1888.3,469.1L1885.6,474.4L1883,480.6L1880.4,487.3L1874.4,503.3L1871.1,511.8L1867.9,519.7L1865.2,525.4L1863.2,529.2L1861.9,531.5L1860.6,533.6L1858.6,536.5L1857.3,538.2L1855.3,540.4L1854,541.6L1852,543.3L1850.7,544.1L1848.7,545.2L1847.4,545.8L1845.4,546.4L1843.5,546.7L1841.5,546.9L1839.5,546.8L1837.5,546.6L1834.2,546L1830.9,545.1L1819.1,541.2L1814.5,539.9L1798.6,536" stroke="#6aa814" stroke-width="4.7"/>
<path d="M1649.7,479.8L1647.7,478.1L1645.7,476.3L1639.1,469.3L1636.5,466.7L1628.6,459.8L1623.3,455.7L1620.7,453.8L1618,452.2L1612.7,449.3L1600.2,442.6L1596.3,440.4L1593,438.4L1589,435.7L1585.7,433.2L1582.4,430.4L1579.8,428L1575.8,423.9L1572.5,420.2L1569.2,416.2L1565.3,410.9L1562,406.2L1558.7,401.2L1544.8,379.5L1541.5,374.7L1538.3,370.4L1535,366.6L1533,364.7L1531.7,363.6L1529.7,362.2L1528.4,361.4L1527,360.8L1525.7,360.4L1524.4,360.1L1523.1,360L1521.8,360L1519.8,360.3L1518.5,360.7L1516.5,361.6L1515.2,362.4L1513.2,363.8L1510.6,366L1507.3,369.3L1504,373L1496.1,382.4L1492.1,386.9L1488.2,391.1L1484.2,394.8L1480.2,398.1L1478.3,399.5L1475.6,401.3L1473.6,402.4L1471,403.8L1466.4,405.8L1463.8,406.7L1461.1,407.5L1458.5,408.1L1455.2,408.7L1449.9,409.3L1443.3,409.5L1439.4,409.4L1434.8,409.2L1425.5,408.4L1415.6,407.1L1406.4,405.6" stroke="#ff7070" stroke-width="4.7"/>
<path d="M1959.5,624.3L1956.2,622.6L1954.2,621.5L1952.2,620L1949.6,617.5L1946.3,614L1942.3,609.7L1941,608.1L1939,605.5L1932.5,596.4L1930.5,593.9L1929.2,592.4L1926.5,589.9L1923.9,587.6L1919.9,584.2L1910,576.3L1906.1,572.8L1902.8,569.7L1899.5,566.3L1896.2,562.5L1892.9,558.3L1890.3,554.5L1888.3,551.3L1886.3,548L1883,541.8L1879.7,534.9L1875.8,525.8L1872.5,517.4L1869.2,508.6L1858.6,478.5L1855.3,469.4L1852,460.8L1848.7,453.2L1846.8,449.2L1845.4,446.7L1843.5,443.5L1842.1,441.6L1840.2,439.3L1838.8,438.1L1837.5,437.2L1836.2,436.6L1834.9,436.2L1832.9,436L1830.9,436.4L1829,437.2L1827.6,438L1825.7,439.6L1823.7,441.5L1821.7,443.9L1820.4,445.7L1818.4,448.6L1815.1,454.1L1811.8,460.2L1803.2,476.9L1798.6,485.6L1794,493.6L1790.1,499.8L1787.4,503.6L1784.8,507.1L1782.2,510.3L1779.5,513.2L1776.9,515.8L1774.2,518.3L1771.6,520.4L1769,522.3L1765.7,524.2L1761.7,526.1L1757.8,527.5L1753.8,528.6L1749.2,529.6L1744.6,530.3L1739.3,530.8L1732.7,531.3L1727.4,531.5L1722.2,531.4L1716.9,531L1711,530.2L1706.3,529.5L1704.4,528.9L1701.1,527.7L1697.8,526.1" stroke="#ff7070" stroke-width="4.7"/>
<path d="M1751.2,532.1L1737.3,531.4L1731.4,531L1727.4,530.5L1724.8,530.1L1722.2,529.3L1719.5,528.3L1717.6,527.2L1715.6,525.7L1713.6,523.7L1711.6,521L1710.3,518.6L1709,515.7L1707.7,512.3L1706.3,508.1L1705,503L1703.7,496.9L1702.4,489.7L1700.4,476.7L1698.4,460.8L1697.1,448.6L1695.8,435L1693.8,412.4L1691.8,387.4L1685.9,304.6L1683.9,278.3L1682.6,262.4L1681.3,248.3L1680,236.3L1679.3,231.3L1678,223.3L1677.3,220.4L1676.7,218.3L1676,216.9L1675.4,216.3L1674.7,216.4L1674,217.3L1673.4,218.9L1672.7,221.2L1672.1,224.2L1671.4,227.9L1670.8,232.2L1669.4,242.5L1668.1,254.8L1666.8,268.7L1664.8,291.7L1659.5,356L1657.6,378L1655.6,397.6L1653.6,414.4L1651.6,428.3L1649.7,439.4L1648.3,445.3L1647,450L1646.4,452L1645,455.2L1643.7,457.6L1642.4,459.3L1641.1,460.4L1639.8,461.1L1638.4,461.4L1636.5,461.3L1634.5,460.9L1631.9,459.8L1629.2,458.4L1622,454L1618,452L1610.1,448.8L1605.5,447.2L1600.9,445.6" stroke="#00a0ff" stroke-width="4.7"/>
<path d="M2066.6,631.9L2000.7,631.9L1995.4,631.8L1991.5,631.5L1986.2,631L1975.6,629.5L1970.4,628.6L1967.7,627.9L1965.1,627L1961.1,625.5L1955.9,623L1954.5,622.2L1951.9,620.3L1950.6,619.1L1947.9,616.5L1941.4,609.3L1938.7,606L1933.4,598.8L1930.8,595.5L1929.5,594.1L1925.5,590.5L1921.6,587.5L1917.6,584.8L1912.3,581.5L1907.1,578.6L1901.8,575.9L1895.2,572.8L1887.3,569.4L1880.7,566.7L1874.1,564.1L1854.3,556.9L1846.4,554L1839.8,551.2L1826.7,545.4L1820.1,542.7L1816.1,541.3L1813.5,540.4L1799,536.6L1791.1,534.7L1787.1,534L1783.1,533.4L1779.2,533L1775.2,532.8L1756.8,532.6L1729.1,532.6L1723.8,532.4L1719.9,532.1L1715.9,531.6L1706.7,530.1L1704,529.4L1702.7,528.9L1700.1,527.8L1696.1,525.6L1692.2,523.1L1689.5,521.2L1686.9,518.9L1682.9,514.8L1676.4,507.3L1673.7,503.9L1668.4,496.5L1665.8,493.2L1664.5,491.8L1663.2,490.5L1660.5,488.3L1657.9,486.3L1651.3,481.6L1647.3,478.4L1644.7,475.8L1638.1,469L1631.5,463.2L1627.6,459.9L1624.9,457.9L1622.3,456L1619.7,454.4L1617,453L1613.1,451.1L1606.5,448.2L1601.2,446.3L1594.6,444L1588,442L1580.1,439.7L1570.9,437.3L1552.4,433.2L1543.2,430.9L1535.3,428.6L1520.8,423.7L1514.2,421.6L1507.6,419.8L1499.7,418.1L1491.8,416.5L1485.2,415.3L1478.6,414.3L1473.3,413.6L1465.4,412.8L1450.9,411.9L1444.3,411.3L1433.8,410.2L1424.5,409.1L1416.6,407.9L1410,406.8L1404.8,405.8L1400.8,404.8L1396.9,403.6L1392.9,402.2L1391.6,401.6L1388.9,400.1L1385,397.3L1378.4,392L1373.1,388.1L1366.5,382.9L1363.9,380.9L1361.3,379.1L1359.9,378.4L1357.3,377.2L1353.3,375.9L1349.4,374.7L1345.4,373.7L1341.5,373L1336.2,372.5L1329.6,372.1L1316.4,371.8" stroke="#8f9bff" stroke-width="4.7"/>
<path d="M2066.6,631.8L2050.1,631.6L2037.6,631.4L2028.4,631.1L2021.8,630.7L2016.5,630L2012.5,629.2L2010.6,628.7L2008.6,628L2005.3,626.5L2003.3,625.3L2002,624.4L2000,622.8L1998.7,621.6L1996.7,619.5L1995.4,617.9L1993.4,615.2L1992.1,613.2L1990.1,609.8L1988.8,607.4L1985.5,600.5L1982.2,592.5L1979.6,585.2L1976.9,577L1975,570L1973,562.3L1971,553.6L1969,543.6L1967.1,532.2L1965.1,519.3L1963.8,509.6L1962.4,498.9L1960.5,481.2L1959.2,468.2L1957.2,447.2L1954.5,416.6L1947.3,327L1945.3,305.2L1944,292.3L1942,275.9L1940.7,267.2L1940,263.5L1938.7,257.8L1938.1,255.7L1937.4,254.2L1936.7,253.2L1936.1,252.7L1935.4,252.8L1934.8,253.5L1934.1,254.7L1933.4,256.3L1932.8,258.5L1931.5,264.3L1930.8,267.9L1929.5,276.1L1928.2,285.8L1926.8,296.5L1920.9,349.3L1918.3,371.4L1915.6,390.8L1913.7,403L1911.7,413.2L1910.4,418.9L1909.1,423.7L1907.7,427.7L1906.4,431L1905.1,433.7L1903.8,435.9L1902.5,437.6L1900.5,439.4L1899.2,440.3L1895.2,442.5L1893.2,443.7L1889.9,446.2L1886.6,449.2L1879.4,456.6L1877.4,458.4L1876.1,459.4L1874.1,460.7L1872.1,461.6L1870.2,462.1L1868.8,462.2L1866.9,461.9L1864.9,461.1L1862.9,459.9L1861.6,458.9L1860.3,457.7L1858.3,455.6L1856.3,453.3L1849.1,443.7L1846.4,440.4L1843.8,437.6L1842.5,436.4L1841.2,435.3L1839.2,434.1L1837.9,433.6L1836.5,433.3L1835.2,433.2L1833.2,433.4L1831.9,433.8L1830.6,434.3L1829.3,435L1828,436L1826.7,437.1L1824,439.8L1821.4,443.1L1818.7,447L1816.1,451.4L1813.5,456.2L1801.6,479.5L1798.3,485.6L1795,491.5L1791.7,496.9L1788.4,501.8L1785.1,506.3L1781.8,510.3L1777.9,514.6L1773.9,518.2L1770.6,520.8L1768.6,522.1L1766.7,523.3L1762.7,525.2L1760.7,526L1758.1,526.9L1753.5,528.1L1748.2,528.9L1743.6,529.3L1738.3,529.5L1732.4,529.4L1727.8,529L1724.5,528.4L1721.8,527.6L1719.2,526.5L1717.2,525.2L1715.2,523.5L1713.3,521.1L1711.3,518L1710,515.3L1708.7,512L1707.3,508L1706,503.3L1704.7,497.6L1703.4,490.8L1702.1,482.8L1700.1,468.4L1698.1,451L1696.8,437.6L1695.5,422.8L1693.5,398.3L1691.5,371.3L1685.6,282.4L1683.6,254.2L1681.6,229.2L1680.3,215L1679,203.3L1678.3,198.5L1677.7,194.4L1677,191L1676.4,188.4L1675.7,186.6L1675,185.5L1674.4,185.2L1673.7,185.6L1673.1,186.7L1672.4,188.5L1671.7,191.1L1671.1,194.3L1669.8,202.4L1668.4,212.6L1666.5,230.9L1661.2,286.7L1659.9,299.7L1658.6,311.6L1656.6,326.6L1655.3,334.3L1654.6,337.3L1653.9,339.9L1653.3,341.9L1652.6,343.3L1652,344.1L1651.3,344.4L1650.6,344.1L1650,343.2L1649.3,341.7L1648.7,339.8L1647.3,334.2L1646,326.8L1644.1,312.7L1638.8,267.2L1637.5,256.6L1636.1,247.3L1634.8,239.6L1633.5,233.9L1632.8,231.8L1632.2,230.4L1631.5,229.5L1630.9,229.3L1630.2,229.8L1629.6,230.9L1628.9,232.7L1628.2,235.1L1627.6,238.1L1626.3,245.6L1624.3,259.9L1618.3,310.8L1615.7,330.9L1613.7,343.3L1612.4,350.1L1611.1,355.9L1610.4,358.3L1609.1,362.5L1607.8,365.8L1607.1,367.2L1605.8,369.3L1604.5,370.9L1603.8,371.6L1602.5,372.5L1601.2,373.2L1599.9,373.8L1594,375.4L1592,376.1L1590,376.9L1586,379L1579.5,383L1576.8,384.5L1574.2,385.8L1571.5,386.8L1569.6,387.3L1567.6,387.6L1565.6,387.6L1564.3,387.5L1563,387.2L1561,386.6L1559.7,386L1557.7,385L1556.4,384.2L1554.4,382.8L1551.1,380L1547.8,376.8L1538.6,367.3L1535.9,364.8L1533.3,362.7L1530.7,360.9L1528,359.7L1526.7,359.3L1525.4,359L1524.1,358.8L1522.8,358.8L1521.4,359L1520.1,359.3L1518.8,359.8L1516.8,360.7L1514.2,362.4L1510.9,365.1L1508.3,367.7L1505.6,370.6L1495.7,382.4L1491.1,387.7L1486.5,392.4L1482.5,396L1478.6,399.1L1474.6,401.6L1470.7,403.7L1466.7,405.4L1463.4,406.5L1460.1,407.4L1456.8,408L1452.9,408.5L1449.6,408.8L1445.6,408.8L1441.7,408.6L1437.1,408.3L1432.4,407.8L1427.8,407L1424.5,406.3L1421.2,405.4L1418.6,404.3L1416.6,403.3L1414.7,401.9L1412.7,400.2L1410.7,397.8L1408.7,394.8L1406.7,390.8L1404.8,385.7L1402.8,379.2L1401.5,374L1399.5,364.8L1398.2,357.7L1396.9,349.7L1395.5,340.9L1393.6,326.1L1392.2,315.3L1389.6,291.6L1383.7,234.5L1381.7,217.1L1380.4,206.7L1378.4,193.7L1377.1,187L1376.4,184.3L1375.8,182.1L1375.1,180.4L1374.4,179.2L1373.8,178.4L1373.1,178.2L1372.5,178.4L1371.8,179.2L1371.1,180.4L1370.5,182L1369.8,184.1L1368.5,189.6L1367.8,192.9L1366.5,200.6L1365.2,209.5L1363.2,224.5L1357.3,274.3L1354.7,295.1L1352.7,309.1L1351.4,317.5L1350,325.1L1348.7,332L1347.4,338L1346.1,343.3L1344.8,347.9L1342.8,353.6L1340.8,358L1338.8,361.5L1336.9,364L1334.9,365.9L1332.9,367.2L1330.9,368.2L1328.3,369L1325.7,369.6L1321.7,370.1L1319.1,370.3L1313.8,370.5L1307.2,370.6L1295.3,370.5L1281.5,369.8L1257.8,368L1239.3,366.4L1228.1,365.1L1218.2,363.8L1209.6,362.4L1201.1,360.7L1194.5,359L1187.9,357.2L1160.2,348.5" stroke="#808080" stroke-width="5.4"/>
</g>
<rect x="1160.2" y="2.5" width="906.5" height="732.1" fill="none" stroke="#000" stroke-width="5.3"/>
<path d="M1242.6,734.6v-8.5M1325,734.6v-17.5M1407.4,734.6v-8.5M1489.8,734.6v-17.5M1572.2,734.6v-8.5M1654.6,734.6v-17.5M1737,734.6v-8.5M1819.4,734.6v-17.5M1901.8,734.6v-8.5M1984.2,734.6v-17.5" stroke="#000" stroke-width="5" fill="none"/>
<text x="1160.2" y="783.9" font-size="37.2" text-anchor="middle">930</text>
<text x="1325" y="783.9" font-size="37.2" text-anchor="middle">920</text>
<text x="1489.8" y="783.9" font-size="37.2" text-anchor="middle">910</text>
<text x="1654.6" y="783.9" font-size="37.2" text-anchor="middle">900</text>
<text x="1819.4" y="783.9" font-size="37.2" text-anchor="middle">890</text>
<text x="1984.2" y="783.9" font-size="37.2" text-anchor="middle">880</text>
<text x="1613.2" y="837.4" font-size="44.6" text-anchor="middle">Binding Energy (eV)</text>
<text x="1638.5" y="902.1" font-size="47.3" text-anchor="middle" font-weight="normal">(c)</text>
<text transform="translate(1119.4,494.6) rotate(-90)" font-size="44.6">Intensity (a.u.)</text>
<text x="2048.6" y="44.6" font-size="34.3" text-anchor="end">Lactic Acid</text>
<circle cx="1204.3" cy="26.8" r="4" fill="none" stroke="#383838" stroke-width="0.9"/>
<path d="M1173,61.7H1235.5" stroke="#808080" stroke-width="5.5"/>
<path d="M1173,96.6H1235.5" stroke="#8f9bff" stroke-width="5.5"/>
<path d="M1173,135.5H1235.5" stroke="#0068b0" stroke-width="5.5"/>
<path d="M1173,174.2H1235.5" stroke="#ff8000" stroke-width="5.5"/>
<path d="M1173,212.9H1235.5" stroke="#6aa814" stroke-width="5.5"/>
<path d="M1173,251.4H1235.5" stroke="#ff7070" stroke-width="5.5"/>
<path d="M1173,290H1235.5" stroke="#00a0ff" stroke-width="5.5"/>
<text x="1243.1" y="35.7" font-size="27.2">experimental data</text>
<text x="1243.1" y="70.6" font-size="27.2">fitting line</text>
<text x="1243.1" y="105.5" font-size="27.2">bkg.</text>
<text x="1243.1" y="145.1" font-size="27.2">Ce<tspan dy="-10.5" font-size="18.5">3+</tspan></text>
<text x="1243.1" y="183.8" font-size="27.2">Ce<tspan dy="-10.5" font-size="18.5">4+</tspan></text>
<text x="1243.1" y="222.5" font-size="27.2">Ce<tspan dy="-10.5" font-size="18.5">3+</tspan></text>
<text x="1243.1" y="261" font-size="27.2">Ce<tspan dy="-10.5" font-size="18.5">4+</tspan></text>
<text x="1243.1" y="299.6" font-size="27.2">Ce<tspan dy="-10.5" font-size="18.5">4+</tspan></text>
<text x="1556.7" y="193" font-size="26.5">Ce 3d<tspan dy="7.2" font-size="18.2">3/2</tspan></text>
<text x="1851.8" y="228.4" font-size="26.5">Ce 3d<tspan dy="7.2" font-size="18.2">5/2</tspan></text>
<clipPath id="cd"><rect x="1160.2" y="967" width="906.5" height="731.4"/></clipPath>
<g clip-path="url(#cd)" fill="none" stroke-linejoin="round" stroke-linecap="butt">
<polyline points="2066.6,1646.7 2064.1,1643.6 2061.7,1643.7 2059.2,1642.7 2056.7,1636 2054.2,1641.8 2051.8,1637.2 2049.3,1642.6 2046.8,1640.5 2044.4,1644.7 2041.9,1641.4 2039.4,1642.3 2036.9,1638.8 2034.5,1643 2032,1640.6 2029.5,1643.3 2027,1644.4 2024.6,1644 2022.1,1640.1 2019.6,1636.4 2017.2,1639.2 2014.7,1644.8 2012.2,1644.8 2009.7,1644.7 2007.3,1638.4 2004.8,1636.7 2002.3,1642 1999.9,1638.6 1997.4,1633.2 1994.9,1629.9 1992.4,1621.5 1990,1619 1987.5,1617.5 1985,1604.4 1982.6,1598 1980.1,1591.2 1977.6,1582.8 1975.1,1567.4 1972.7,1557.6 1970.2,1541 1967.7,1519.9 1965.2,1494 1962.8,1463.5 1960.3,1425 1957.8,1393.1 1955.4,1348 1952.9,1314.9 1950.4,1279.7 1947.9,1250.1 1945.5,1229.8 1943,1220.9 1940.5,1226.1 1938.1,1241.9 1935.6,1262 1933.1,1283.8 1930.6,1312 1928.2,1346.8 1925.7,1363.4 1923.2,1379.3 1920.8,1399.6 1918.3,1408.1 1915.8,1417.4 1913.3,1434 1910.9,1439 1908.4,1446 1905.9,1454.5 1903.4,1452.6 1901,1453.4 1898.5,1464.8 1896,1457.5 1893.6,1465.4 1891.1,1476.4 1888.6,1480.9 1886.1,1478.8 1883.7,1478.6 1881.2,1480.9 1878.7,1480.1 1876.3,1479.5 1873.8,1476.3 1871.3,1473.1 1868.8,1473.2 1866.4,1470.4 1863.9,1466.6 1861.4,1462.6 1859,1457.6 1856.5,1445.7 1854,1447.7 1851.5,1443.5 1849.1,1433.8 1846.6,1429.8 1844.1,1432.4 1841.6,1428.1 1839.2,1420.9 1836.7,1421.3 1834.2,1419.3 1831.8,1424.5 1829.3,1437.8 1826.8,1434.7 1824.3,1438.5 1821.9,1436.8 1819.4,1447.1 1816.9,1450.9 1814.5,1457.4 1812,1464.4 1809.5,1468.1 1807,1470.7 1804.6,1482.2 1802.1,1484.9 1799.6,1489.3 1797.2,1491.5 1794.7,1495.7 1792.2,1495.5 1789.7,1497.9 1787.3,1502.4 1784.8,1503 1782.3,1508.1 1779.8,1500 1777.4,1509.8 1774.9,1511.6 1772.4,1519 1770,1517 1767.5,1518.8 1765,1522.5 1762.5,1524.4 1760.1,1520.2 1757.6,1522.9 1755.1,1528.7 1752.7,1528.6 1750.2,1526.5 1747.7,1531.6 1745.2,1523.1 1742.8,1529.1 1740.3,1525.6 1737.8,1527.7 1735.4,1523.7 1732.9,1524.4 1730.4,1530 1727.9,1522.2 1725.5,1519.2 1723,1519.9 1720.5,1513.7 1718,1514.3 1715.6,1501.8 1713.1,1495 1710.6,1482 1708.2,1470 1705.7,1447.8 1703.2,1432.1 1700.7,1398.9 1698.3,1366.3 1695.8,1327.2 1693.3,1287.1 1690.9,1248 1688.4,1209.3 1685.9,1185.7 1683.4,1154 1681,1145.6 1678.5,1143.1 1676,1150.6 1673.6,1173.1 1671.1,1196.7 1668.6,1222.2 1666.1,1248.3 1663.7,1274.8 1661.2,1295.3 1658.7,1315.7 1656.2,1332.2 1653.8,1328.1 1651.3,1303.4 1648.8,1276 1646.4,1246.6 1643.9,1224.2 1641.4,1205.2 1638.9,1198.1 1636.5,1189.1 1634,1208.7 1631.5,1220.6 1629.1,1248.3 1626.6,1268.3 1624.1,1293.3 1621.6,1313.6 1619.2,1324.8 1616.7,1337 1614.2,1350.9 1611.8,1366.7 1609.3,1364.7 1606.8,1370.6 1604.3,1376.1 1601.9,1371.4 1599.4,1376.6 1596.9,1364.7 1594.4,1367.6 1592,1373.1 1589.5,1374 1587,1378 1584.6,1384.9 1582.1,1382.3 1579.6,1389.5 1577.1,1391.7 1574.7,1390.2 1572.2,1393.1 1569.7,1383.1 1567.3,1387.4 1564.8,1376.4 1562.3,1378.5 1559.8,1376.3 1557.4,1371.7 1554.9,1374.4 1552.4,1374.1 1550,1368.3 1547.5,1361.1 1545,1359.5 1542.5,1351.6 1540.1,1344.9 1537.6,1331.2 1535.1,1334.5 1532.6,1333 1530.2,1324.9 1527.7,1318.6 1525.2,1324.8 1522.8,1327.6 1520.3,1327.4 1517.8,1334.6 1515.3,1340.6 1512.9,1341.4 1510.4,1345.9 1507.9,1353.6 1505.5,1354.1 1503,1356.9 1500.5,1363.7 1498,1367.4 1495.6,1368.8 1493.1,1372.1 1490.6,1372.9 1488.2,1388.1 1485.7,1379.8 1483.2,1383.6 1480.7,1386.6 1478.3,1390.1 1475.8,1388.2 1473.3,1390 1470.8,1388.9 1468.4,1391.1 1465.9,1385.1 1463.4,1394.4 1461,1391.8 1458.5,1391.4 1456,1386.8 1453.5,1381.3 1451.1,1384.4 1448.6,1386 1446.1,1390.6 1443.7,1385.8 1441.2,1390.1 1438.7,1388 1436.2,1386.7 1433.8,1386 1431.3,1387.7 1428.8,1386.3 1426.4,1379.4 1423.9,1379.9 1421.4,1375.8 1418.9,1374.2 1416.5,1371.2 1414,1359.7 1411.5,1354.5 1409,1343.1 1406.6,1342.1 1404.1,1322.8 1401.6,1300.9 1399.2,1291.3 1396.7,1263.3 1394.2,1240.5 1391.7,1217 1389.3,1193.6 1386.8,1163.4 1384.3,1147.9 1381.9,1133.9 1379.4,1122.9 1376.9,1122.5 1374.4,1131.5 1372,1142.8 1369.5,1156.9 1367,1180 1364.6,1207.8 1362.1,1229.4 1359.6,1248 1357.1,1269.9 1354.7,1292.6 1352.2,1302.2 1349.7,1312.9 1347.2,1333.4 1344.8,1331.8 1342.3,1335 1339.8,1344.6 1337.4,1341.4 1334.9,1344.5 1332.4,1346.6 1329.9,1351.5 1327.5,1346.9 1325,1353 1322.5,1346.9 1320.1,1351.7 1317.6,1351.3 1315.1,1352.6 1312.6,1357 1310.2,1350.1 1307.7,1349.2 1305.2,1348.1 1302.8,1348.1 1300.3,1350.1 1297.8,1348.6 1295.3,1351.7 1292.9,1347 1290.4,1350.3 1287.9,1349.4 1285.4,1348.5 1283,1349 1280.5,1348 1278,1346.6 1275.6,1346.6 1273.1,1342.5 1270.6,1343.8 1268.1,1346.4 1265.7,1347 1263.2,1345.7 1260.7,1343.7 1258.3,1342.2 1255.8,1343.9 1253.3,1342.4 1250.8,1338.3 1248.4,1342.2 1245.9,1343.1 1243.4,1340.3 1241,1335.2 1238.5,1339.1 1236,1339.1 1233.5,1335.8 1231.1,1341 1228.6,1339.1 1226.1,1341.4 1223.6,1337.6 1221.2,1339.8 1218.7,1340 1216.2,1341.9 1213.8,1334.7 1211.3,1336.4 1208.8,1340 1206.3,1333.8 1203.9,1329.5 1201.4,1334.1 1198.9,1331.9 1196.5,1324.2 1194,1328.2 1191.5,1322.6 1189,1326.6 1186.6,1327.4 1184.1,1326.4 1181.6,1319.4 1179.2,1318.1 1176.7,1323.6 1174.2,1320.1 1171.7,1317.6 1169.3,1317.6 1166.8,1314.8 1164.3,1311.1 1161.8,1310.4" stroke="none" fill="none" marker-start="url(#mk)" marker-mid="url(#mk)" marker-end="url(#mk)"/>
<path d="M1707,1530.3L1705,1529.3L1703.1,1528.1L1701.1,1526.6L1698.4,1524.1L1695.8,1521.3L1693.2,1518.1L1691.2,1515.5L1689.2,1512.4L1687.9,1510.1L1685.9,1506.3L1683.9,1502.2L1681.3,1496.3L1675.4,1482.5L1666.1,1459.3L1664.2,1454.7L1661.5,1449.1L1658.2,1443L1656.2,1439.7L1654.9,1437.7L1653.6,1435.9L1651.6,1433.4L1649.7,1431.2L1647.7,1429.4L1645.7,1427.8L1644.4,1427.2L1643.7,1427L1643.1,1426.9L1641.7,1427L1641.1,1427.1L1639.8,1427.7L1638.4,1428.6L1637.1,1429.7L1631.9,1435.4L1629.9,1437.4L1628.6,1438.5L1627.2,1439.4L1625.9,1440.2L1624.6,1440.9L1622.6,1441.6L1621.3,1441.9L1619.3,1442.1L1616,1442.2L1614.1,1442L1612.1,1441.7L1607.5,1440.6" stroke="#0068b0" stroke-width="4.7"/>
<path d="M2013.5,1644.8L2008.9,1644.4L2005.6,1643.8L2002.3,1643L1999.7,1641.9L1998.4,1641.2L1997.1,1640.3L1995.1,1638.7L1993.1,1636.8L1991.1,1634.4L1989.1,1631.5L1987.2,1628.2L1985.2,1624.4L1983.2,1620.1L1979.9,1612.3L1972.7,1593.8L1970.7,1589.1L1968.7,1584.8L1966.7,1581L1964.8,1578L1963.4,1576.5L1962.8,1575.8L1961.5,1574.9L1960.1,1574.4L1959.5,1574.4L1958.8,1574.5L1957.5,1575L1956.2,1575.9L1954.9,1577.2L1952.9,1579.6L1946.3,1588.7L1943,1592.9L1941.7,1594.2L1940.4,1595.3L1939,1596L1937.7,1596.5L1935.7,1596.8L1933.8,1596.6L1931.8,1596.2L1927.2,1594.9L1925.2,1594.2L1922.6,1593.1L1915.3,1589.6" stroke="#0068b0" stroke-width="4.7"/>
<path d="M1699.1,1525.5L1695.8,1522.5L1691.8,1518.5L1690.5,1517L1688.5,1514.5L1684.6,1508.6L1676,1495.1L1674,1491.8L1672.1,1488.1L1670.8,1485.5L1668.8,1481.1L1667.5,1477.8L1666.1,1474.1L1664.8,1470L1663.5,1465.3L1662.2,1459.9L1660.2,1450.3L1658.2,1438.3L1656.2,1423.8L1654.3,1406.5L1653,1393.6L1651,1372.3L1644.4,1295.6L1643.1,1282.1L1641.7,1270.4L1640.4,1260.8L1639.8,1257L1639.1,1253.8L1638.4,1251.4L1637.8,1249.8L1637.1,1248.9L1636.5,1248.9L1635.8,1249.6L1635.2,1251L1634.5,1253.2L1633.8,1256.1L1632.5,1263.7L1631.2,1273.4L1629.9,1284.8L1627.9,1304.2L1623.3,1351.6L1621.3,1369.9L1620,1381L1618,1395.4L1616,1407.2L1614.1,1416.4L1613.4,1418.9L1612.1,1423.2L1611.4,1425.1L1610.1,1428.1L1608.8,1430.5L1607.5,1432.3L1606.1,1433.6L1604.8,1434.5L1603.5,1435.1L1602.2,1435.5L1600.9,1435.7L1598.9,1435.8L1596.3,1435.7L1593.6,1435.3L1589.7,1434.6L1585.7,1433.8L1576.5,1431.4" stroke="#ff8000" stroke-width="4.7"/>
<path d="M2007.3,1644.8L1998,1644.3L1994.7,1643.8L1991.5,1643.2L1988.2,1642.2L1985.5,1641L1983.5,1639.8L1981.6,1638.1L1979.6,1635.9L1978.3,1634L1976.3,1630.3L1975,1627.1L1973.7,1623.3L1972.3,1618.6L1970.4,1609.7L1969,1602.4L1967.7,1593.8L1965.7,1578.3L1963.8,1559.6L1961.8,1537.6L1959.8,1512.4L1957.8,1484.7L1950.6,1375.2L1948.6,1349L1947.3,1334.1L1946,1321.6L1945.3,1316.3L1944.6,1311.9L1944,1308.2L1943.3,1305.4L1942.7,1303.4L1942,1302.1L1941.4,1301.7L1940.7,1302.2L1940,1303.4L1939.4,1305.4L1938.7,1308.2L1937.4,1315.9L1936.7,1320.8L1935.4,1332.4L1934.1,1346.2L1932.8,1361.6L1930.8,1387.1L1925.5,1458.1L1923.6,1482.2L1922.2,1496.9L1920.3,1516.4L1918.3,1532.8L1916.3,1546L1915,1553.3L1913.7,1559.3L1913,1561.9L1911.7,1566.4L1910.4,1570L1909.1,1572.7L1907.7,1574.9L1906.4,1576.4L1905.1,1577.6L1904.4,1578L1903.1,1578.6L1901.8,1578.9L1899.8,1579L1897.8,1578.8L1895.2,1578.3L1892.6,1577.5L1888.6,1576.1L1876.8,1571.4" stroke="#ff8000" stroke-width="4.7"/>
<path d="M1685.9,1511.3L1678.7,1500.4L1670.1,1488.6L1666.8,1484.3L1664.8,1482L1662.8,1480L1654.9,1472.8L1652.3,1470.1L1649.7,1467.1L1647,1463.5L1645,1460.3L1642.4,1455.3L1633.2,1436.7L1623.3,1416.1L1620.7,1410.9L1618.7,1407.4L1616.7,1404.1L1614.7,1401L1612.7,1398.2L1610.8,1395.7L1608.8,1393.5L1607.5,1392.2L1605.5,1390.7L1604.2,1389.8L1602.9,1389.2L1600.9,1388.5L1599.6,1388.2L1597.6,1388.2L1596.3,1388.3L1594.3,1388.7L1593,1389.2L1591,1390.1L1587.7,1392.1L1584.4,1394.5L1580.4,1397.8L1570.6,1406.4L1567.3,1409L1564.6,1410.9L1560.7,1413.3L1557.4,1414.9L1554.1,1416.2L1550.8,1417.1L1547.5,1417.6L1543.5,1417.8L1540.2,1417.7L1536.3,1417.1L1533,1416.5L1529,1415.4L1515.8,1411.5L1511.2,1410.2" stroke="#6aa814" stroke-width="4.7"/>
<path d="M2022.4,1644.9L2005.3,1644.4L2000,1644.2L1997.4,1644L1994.1,1643.5L1990.8,1642.9L1987.5,1642.1L1984.2,1641L1980.9,1639.7L1977.6,1638.2L1974.3,1636.3L1971.7,1634.5L1969,1632.1L1967.1,1630L1964.4,1626.7L1962.4,1623.8L1960.5,1620.7L1958.5,1617.1L1956.5,1613.3L1954.5,1609L1953.2,1605.9L1951.2,1600.6L1947.9,1590.8L1944,1577.6L1940.7,1565.6L1938.1,1555.2L1932.1,1530.8L1928.8,1518.1L1924.9,1504.3L1922.9,1498L1920.9,1492.2L1918.9,1486.9L1917.6,1483.7L1915.6,1479.5L1914.3,1477.1L1912.3,1474L1911,1472.4L1909.7,1471.2L1908.4,1470.3L1907.7,1470L1906.4,1469.8L1905.1,1470.1L1903.8,1470.8L1902.5,1471.9L1901.1,1473.4L1899.8,1475.4L1898.5,1477.7L1896.5,1481.6L1893.9,1487.8L1891.3,1494.7L1884.7,1513L1882,1520L1878.7,1528.2L1876.1,1534L1874.1,1538L1872.8,1540.4L1871.5,1542.6L1869.5,1545.6L1868.2,1547.3L1866.2,1549.6L1864.9,1550.9L1862.9,1552.6L1861.6,1553.5L1859.6,1554.6L1857.6,1555.4L1855.7,1556L1853.7,1556.3L1851,1556.5L1849.1,1556.4L1846.4,1556L1842.5,1555.1L1838.5,1553.8L1834.6,1552.2L1824,1547.8L1818.7,1545.8L1814.1,1544.3L1809.5,1543.2" stroke="#6aa814" stroke-width="4.7"/>
<path d="M1648,1472.1L1646.7,1471L1644.7,1468.9L1638.8,1462L1636.8,1459.9L1628.2,1451.8L1625.6,1449.6L1623,1447.5L1619.7,1445.2L1617,1443.7L1611.8,1441.1L1599.2,1435.2L1595.9,1433.5L1592.6,1431.6L1589.3,1429.4L1586,1426.8L1582.7,1423.8L1580.1,1421L1576.2,1416.1L1572.9,1411.5L1569.6,1406.4L1565.6,1399.4L1562.3,1393L1559,1386.3L1549.8,1366.2L1546.5,1359.2L1543.2,1352.8L1540.6,1348.1L1538.6,1344.9L1537.3,1343L1535.9,1341.3L1534.6,1339.8L1532.6,1337.9L1531.3,1337L1530,1336.3L1528.7,1335.8L1527.4,1335.5L1526.1,1335.4L1524.7,1335.6L1522.8,1336.3L1521.4,1336.9L1520.1,1337.8L1518.8,1338.9L1516.8,1340.8L1514.2,1343.8L1510.9,1348.3L1507.6,1353.3L1501,1363.9L1497.1,1370L1493.1,1375.7L1489.1,1380.7L1485.2,1385.1L1483.2,1387L1480.6,1389.3L1478.6,1390.8L1476,1392.6L1474,1393.7L1471.3,1395.1L1468.7,1396.2L1465.4,1397.4L1462.1,1398.4L1458.8,1399.1L1455.5,1399.7L1452.2,1400.1L1448.3,1400.3L1445,1400.4L1441,1400.2L1437.1,1399.9L1432.4,1399.4L1427.8,1398.7L1422.6,1397.7L1417.3,1396.6L1411.4,1395.3L1407.4,1394.2" stroke="#ff7070" stroke-width="4.7"/>
<path d="M1952.6,1627.7L1949.3,1624.1L1942,1615.5L1939.4,1612L1933.4,1603.7L1930.1,1599.7L1928.2,1597.7L1924.2,1594.3L1913.7,1586.2L1910.4,1583.5L1907.1,1580.6L1903.8,1577.4L1899.8,1573.2L1896.5,1569.1L1893.2,1564.5L1890.6,1560.3L1887.3,1554.3L1884,1547.6L1880.7,1540L1876.8,1529.9L1874.1,1522.6L1870.8,1512.9L1860.9,1482L1857.6,1472L1854.3,1462.6L1851,1454.2L1849.1,1449.9L1847.7,1447.2L1845.8,1443.8L1844.4,1441.8L1842.5,1439.3L1841.2,1438.1L1839.8,1437.1L1838.5,1436.5L1837.2,1436.1L1835.2,1436L1833.2,1436.3L1831.3,1437.2L1829.9,1438.1L1828,1439.8L1826,1441.9L1824,1444.5L1822.7,1446.4L1820.7,1449.5L1818.7,1452.9L1816.8,1456.6L1813.5,1463.2L1804.9,1481.4L1800.9,1489.5L1797,1497L1793,1503.9L1790.4,1508L1788.4,1510.8L1786.4,1513.5L1783.8,1516.7L1781.8,1518.9L1779.2,1521.5L1777.2,1523.2L1774.6,1525.3L1771.9,1527.1L1768.6,1528.9L1766,1530.1L1762.7,1531.4L1759.4,1532.4L1756.1,1533.1L1752.8,1533.6L1748.9,1534.1L1743.6,1534.4L1737.7,1534.6L1732.4,1534.6L1727.1,1534.4L1723.2,1534L1718.5,1533.3L1713.9,1532.3L1709.3,1531" stroke="#ff7070" stroke-width="4.7"/>
<path d="M1764.7,1536.6L1750.2,1535.2L1741.6,1534.2L1736.3,1533.4L1733,1532.7L1730.4,1531.9L1727.8,1530.8L1725.8,1529.6L1723.8,1528L1721.8,1525.8L1719.9,1523L1718.5,1520.5L1716.6,1516L1715.2,1512.1L1713.9,1507.6L1712.6,1502.2L1711.3,1495.9L1710,1488.6L1708,1475.6L1706,1459.7L1704,1440.8L1702.1,1418.7L1699.4,1384.7L1696.8,1346.6L1690.9,1256.3L1688.9,1228.6L1687.6,1211.8L1685.6,1190.4L1684.3,1179.1L1683.6,1174.5L1682.9,1170.6L1682.3,1167.4L1681.6,1165.1L1681,1163.5L1680.3,1162.7L1679.6,1162.8L1679,1163.7L1678.3,1165.5L1677.7,1168L1677,1171.4L1675.7,1180.1L1675,1185.5L1673.7,1197.9L1672.4,1212.2L1670.4,1236.4L1664.5,1316.7L1662.5,1342.2L1659.9,1372.9L1657.9,1392.7L1655.9,1409.6L1653.9,1423.5L1652,1434.6L1650.6,1440.4L1649.3,1445.3L1648.7,1447.3L1647.3,1450.6L1646.7,1452L1645.4,1454L1644.1,1455.3L1642.7,1456L1641.4,1456.3L1640.1,1456.2L1638.8,1455.9L1637.5,1455.4L1635.5,1454.6L1634.2,1453.9L1631.5,1452.3L1623.6,1446.9L1621,1445.4L1618.3,1444.1L1614.4,1442.5L1609.8,1440.9L1605.2,1439.6L1599.2,1438" stroke="#00a0ff" stroke-width="4.7"/>
<path d="M2066.6,1645.5L2017.8,1645.3L2000.7,1645.2L1996.7,1645L1991.5,1644.5L1984.9,1643.4L1980.9,1642.5L1975.6,1641.2L1973,1640.5L1970.4,1639.6L1966.4,1637.8L1962.4,1635.5L1957.2,1631.9L1954.5,1629.9L1953.2,1628.8L1951.9,1627.5L1949.3,1624.7L1941.4,1615.3L1933.4,1604.7L1930.8,1601.5L1929.5,1600.1L1928.2,1598.9L1925.5,1596.8L1922.9,1594.8L1918.9,1592.3L1915,1589.9L1908.4,1586.3L1904.4,1584.3L1899.2,1581.8L1875.4,1571.3L1845.1,1558.5L1828,1550.4L1821.4,1547.5L1816.1,1545.5L1810.8,1544L1804.2,1542.5L1799,1541.3L1793.7,1540.3L1788.4,1539.4L1780.5,1538.3L1771.3,1537.5L1760.7,1536.9L1734.4,1535.7L1729.1,1535.4L1725.1,1535L1718.5,1533.9L1713.3,1532.7L1709.3,1531.5L1706.7,1530.7L1704,1529.5L1701.4,1527.8L1698.8,1525.7L1694.8,1522.2L1690.9,1518.3L1689.5,1516.8L1686.9,1513.3L1679,1501.6L1672.4,1492.8L1668.4,1487.8L1665.8,1484.9L1664.5,1483.7L1663.2,1482.5L1660.5,1480.6L1651.3,1475L1648.7,1473.1L1647.3,1472.1L1644.7,1469.5L1639.4,1463.4L1636.8,1460.6L1630.2,1454.5L1624.9,1450L1622.3,1448L1619.7,1446.3L1617,1445L1614.4,1443.8L1609.1,1441.7L1602.5,1439.5L1582.7,1433.9L1552.4,1424.8L1543.2,1421.9L1536.6,1419.7L1518.1,1412.9L1512.9,1411.2L1507.6,1409.7L1498.4,1407.7L1490.5,1406L1483.9,1404.9L1477.3,1403.9L1472,1403.3L1468,1403L1452.2,1402.4L1447,1402.1L1441.7,1401.7L1436.4,1401L1431.1,1400.2L1424.5,1398.9L1417.9,1397.5L1410,1395.5L1404.8,1393.8L1400.8,1392.2L1395.5,1389.7L1392.9,1388.2L1391.6,1387.3L1390.3,1386.2L1387.6,1383.8L1379.7,1375.5L1377.1,1372.9L1369.2,1365.9L1366.5,1363.8L1365.2,1362.9L1363.9,1362.1L1362.6,1361.5L1359.9,1360.3L1356,1358.9L1350.7,1357.5L1342.8,1355.9L1336.2,1354.8L1330.9,1354.3L1316.4,1353.8L1300.6,1352.9" stroke="#8f9bff" stroke-width="4.7"/>
<path d="M2066.6,1645.4L2038.3,1645L2027.7,1644.6L2019.1,1644.2L2013.9,1643.8L2009.2,1643.2L2005.3,1642.3L2002,1641.1L2000,1640.2L1998.7,1639.4L1997.4,1638.4L1996.1,1637.3L1994.7,1636L1993.4,1634.5L1992.1,1632.8L1990.8,1630.8L1989.5,1628.6L1988.2,1626.1L1986.2,1621.8L1984.9,1618.6L1983.5,1615L1981.6,1608.9L1979.6,1601.8L1977.6,1593.8L1975.6,1584.4L1973.7,1573.7L1971.7,1561.3L1970.4,1551.9L1968.4,1536L1967.1,1524L1964.4,1496.7L1963.1,1481.4L1961.1,1456.3L1957.8,1410.1L1951.9,1322.2L1949.9,1295.2L1948.6,1279L1946.6,1258.5L1945.3,1247.8L1944.6,1243.5L1944,1239.9L1943.3,1237.1L1942.7,1235L1942,1233.6L1941.4,1233L1940.7,1233.1L1940,1233.9L1939.4,1235.5L1938.7,1237.7L1938.1,1240.6L1937.4,1244.1L1936.7,1248.3L1935.4,1258.1L1934.1,1269.8L1932.1,1289.9L1926.8,1349.7L1924.9,1370.7L1922.2,1395.3L1920.3,1410.6L1918.3,1423.1L1917,1430L1915.6,1435.8L1914.3,1440.5L1913,1444.4L1911.7,1447.6L1911,1448.9L1909.7,1451.2L1907.7,1453.9L1902.5,1459.9L1899.2,1464.2L1895.9,1469.1L1889.3,1479.6L1887.3,1482.5L1885.3,1485L1884,1486.5L1882.7,1487.7L1880.7,1489.1L1879.4,1489.7L1878.1,1490.1L1876.8,1490.1L1876.1,1490L1875.4,1489.9L1874.1,1489.3L1872.8,1488.5L1871.5,1487.4L1870.2,1486.1L1868.8,1484.4L1867.5,1482.6L1866.2,1480.5L1864.2,1477L1861.6,1471.9L1854.3,1456.3L1851,1449.5L1849.1,1445.9L1847.7,1443.7L1846.4,1441.7L1845.1,1439.9L1843.1,1437.7L1841.8,1436.5L1840.5,1435.6L1839.2,1435L1837.2,1434.5L1835.9,1434.5L1833.9,1434.8L1831.9,1435.7L1830.6,1436.5L1829.3,1437.6L1828,1438.8L1826.7,1440.2L1824,1443.6L1820.7,1448.7L1818.1,1453.4L1814.8,1459.9L1803.6,1483.7L1800.3,1490.4L1797.6,1495.4L1794.4,1501.3L1791.7,1505.6L1788.4,1510.5L1785.8,1514L1782.5,1517.8L1780.5,1519.9L1778.5,1521.7L1775.2,1524.4L1773.3,1525.8L1771.3,1527L1769.3,1528.1L1767.3,1529L1763.4,1530.5L1759.4,1531.5L1754.8,1532.3L1750.2,1532.6L1744.9,1532.7L1740.3,1532.4L1735.7,1531.9L1732.4,1531.3L1729.1,1530.2L1727.8,1529.6L1726.5,1528.9L1724.5,1527.4L1722.5,1525.5L1720.5,1522.9L1718.5,1519.4L1717.2,1516.5L1715.2,1510.9L1713.9,1506.4L1712.6,1500.9L1711.3,1494.6L1710,1487.2L1708.7,1478.8L1706.7,1463.7L1704.7,1445.7L1703.4,1431.8L1702.1,1416.6L1700.1,1391.2L1698.1,1363.3L1689.5,1232L1687.6,1205.2L1686.2,1189.5L1684.9,1176.1L1684.3,1170.3L1682.9,1160.7L1682.3,1157L1681.6,1154L1681,1151.9L1680.3,1150.4L1679.6,1149.8L1679,1150L1678.3,1151L1677.7,1152.8L1677,1155.3L1675.7,1162.2L1674.4,1171.5L1673.1,1182.7L1671.7,1195.3L1666.5,1251.7L1663.8,1277.2L1662.5,1287.9L1661.2,1296.7L1659.9,1303.5L1659.2,1306.1L1658.6,1308L1657.9,1309.4L1657.2,1310.1L1656.6,1310.2L1655.9,1309.7L1655.3,1308.6L1654.6,1306.9L1653.9,1304.7L1653.3,1301.8L1652,1294.5L1650,1280.2L1648.7,1268.9L1644.1,1226.1L1642.1,1210.9L1640.8,1203.1L1640.1,1200.1L1639.4,1197.7L1638.8,1196.1L1638.1,1195.2L1637.5,1195L1636.8,1195.5L1636.1,1196.9L1635.5,1198.9L1634.8,1201.7L1633.5,1209.1L1632.2,1218.8L1630.9,1230.3L1629.6,1243.2L1624.9,1292L1622.3,1317.7L1621,1329.1L1619.7,1339.2L1617.7,1352.1L1616.4,1359.1L1615,1364.9L1613.7,1369.5L1612.4,1373.1L1611.1,1375.8L1610.4,1376.9L1609.1,1378.6L1607.8,1379.8L1607.1,1380.2L1605.8,1380.8L1604.5,1381.2L1603.2,1381.4L1597.2,1381.7L1594,1382.1L1590.7,1382.8L1582.7,1384.8L1580.8,1385.1L1578.8,1385.3L1576.2,1385.3L1573.5,1384.8L1570.9,1384L1568.9,1383L1566.3,1381.2L1563.6,1378.9L1561,1376L1558.4,1372.7L1556.4,1369.9L1553.7,1365.9L1545.2,1351.8L1542.5,1347.6L1539.9,1343.8L1537.3,1340.4L1534.6,1337.7L1533.3,1336.6L1532,1335.7L1530.7,1335L1529.4,1334.5L1528,1334.3L1526.7,1334.2L1525.4,1334.4L1524.1,1334.8L1522.8,1335.3L1521.4,1336.1L1520.1,1337L1518.8,1338.1L1516.2,1340.9L1513.5,1344.1L1510.9,1347.8L1507.6,1352.8L1501,1363.5L1497.7,1368.7L1493.8,1374.5L1490.5,1378.8L1486.5,1383.4L1484.5,1385.4L1482.5,1387.2L1480.6,1388.9L1478.6,1390.4L1476.6,1391.7L1474,1393.3L1470.7,1394.9L1467.4,1396.2L1464.1,1397.2L1460.8,1398L1457.5,1398.5L1453.5,1399L1449.6,1399.1L1445.6,1399L1441.7,1398.7L1438.4,1398.1L1435.1,1397.4L1431.8,1396.4L1429.2,1395.3L1426.5,1393.8L1424.5,1392.4L1422.6,1390.5L1421.2,1389L1419.9,1387.3L1417.9,1384.1L1416,1380L1414,1374.9L1412,1368.7L1410,1361.1L1408.1,1351.9L1406.7,1344.8L1405.4,1337L1403.4,1323.8L1402.1,1314L1400.1,1298L1396.9,1268.3L1388.9,1191.7L1387,1174.6L1385.6,1164.4L1383.7,1151.5L1382.4,1144.8L1381.7,1142.1L1381,1139.8L1380.4,1137.9L1379.7,1136.5L1379.1,1135.6L1378.4,1135.2L1377.7,1135.3L1377.1,1135.8L1376.4,1136.8L1375.8,1138.2L1375.1,1140.1L1374.4,1142.4L1373.1,1148.1L1371.1,1159.1L1369.2,1172.7L1367.2,1188.1L1360.6,1244.7L1357.3,1271L1355.3,1285.1L1354,1293.6L1352.7,1301.4L1351.4,1308.4L1350,1314.8L1348.1,1323L1346.8,1327.6L1344.8,1333.5L1342.8,1338.1L1340.8,1341.7L1338.8,1344.4L1337.5,1345.9L1336.2,1347L1334.2,1348.4L1331.6,1349.7L1328.3,1350.9L1325,1351.6L1321,1352L1316.4,1352.2L1309.8,1352.3L1301.9,1352.2L1295.3,1352L1287.4,1351.5L1278.9,1350.8L1267,1349.7L1255.8,1348.5L1231.4,1345.5L1220.2,1344.3L1216.9,1343.6L1214.9,1343L1212.9,1342.1L1209,1340L1200.4,1334.7L1198.4,1333.7L1196.5,1332.7L1193.8,1331.8L1188.5,1330.3L1185.9,1329.4L1183.9,1328.3L1179.3,1324.9L1177.3,1323.8L1174.7,1323.1L1171.4,1322.3L1160.2,1320.6" stroke="#808080" stroke-width="5.4"/>
</g>
<rect x="1160.2" y="967" width="906.5" height="731.4" fill="none" stroke="#000" stroke-width="5.3"/>
<path d="M1242.6,1698.4v-8.5M1325,1698.4v-17.5M1407.4,1698.4v-8.5M1489.8,1698.4v-17.5M1572.2,1698.4v-8.5M1654.6,1698.4v-17.5M1737,1698.4v-8.5M1819.4,1698.4v-17.5M1901.8,1698.4v-8.5M1984.2,1698.4v-17.5" stroke="#000" stroke-width="5" fill="none"/>
<text x="1160.2" y="1747.7" font-size="37.2" text-anchor="middle">930</text>
<text x="1325" y="1747.7" font-size="37.2" text-anchor="middle">920</text>
<text x="1489.8" y="1747.7" font-size="37.2" text-anchor="middle">910</text>
<text x="1654.6" y="1747.7" font-size="37.2" text-anchor="middle">900</text>
<text x="1819.4" y="1747.7" font-size="37.2" text-anchor="middle">890</text>
<text x="1984.2" y="1747.7" font-size="37.2" text-anchor="middle">880</text>
<text x="1613.2" y="1801.2" font-size="44.6" text-anchor="middle">Binding Energy (eV)</text>
<text x="1589.5" y="1865.9" font-size="47.3" text-anchor="middle" font-weight="normal">(d)</text>
<text transform="translate(1119.4,1459.1) rotate(-90)" font-size="44.6">Intensity (a.u.)</text>
<text x="2050.5" y="1009" font-size="34.3" text-anchor="end">Phytic Acid</text>
<circle cx="1204.3" cy="991.3" r="4" fill="none" stroke="#383838" stroke-width="0.9"/>
<path d="M1173,1026.2H1235.5" stroke="#808080" stroke-width="5.5"/>
<path d="M1173,1061.1H1235.5" stroke="#8f9bff" stroke-width="5.5"/>
<path d="M1173,1100H1235.5" stroke="#0068b0" stroke-width="5.5"/>
<path d="M1173,1138.7H1235.5" stroke="#ff8000" stroke-width="5.5"/>
<path d="M1173,1177.4H1235.5" stroke="#6aa814" stroke-width="5.5"/>
<path d="M1173,1215.9H1235.5" stroke="#ff7070" stroke-width="5.5"/>
<path d="M1173,1254.5H1235.5" stroke="#00a0ff" stroke-width="5.5"/>
<text x="1243.1" y="1000.2" font-size="27.2">experimental data</text>
<text x="1243.1" y="1035.1" font-size="27.2">fitting line</text>
<text x="1243.1" y="1070" font-size="27.2">bkg.</text>
<text x="1243.1" y="1109.6" font-size="27.2">Ce<tspan dy="-10.5" font-size="18.5">3+</tspan></text>
<text x="1243.1" y="1148.3" font-size="27.2">Ce<tspan dy="-10.5" font-size="18.5">4+</tspan></text>
<text x="1243.1" y="1187" font-size="27.2">Ce<tspan dy="-10.5" font-size="18.5">3+</tspan></text>
<text x="1243.1" y="1225.5" font-size="27.2">Ce<tspan dy="-10.5" font-size="18.5">4+</tspan></text>
<text x="1243.1" y="1264.1" font-size="27.2">Ce<tspan dy="-10.5" font-size="18.5">4+</tspan></text>
<text x="1563.8" y="1156.9" font-size="26.5">Ce 3d<tspan dy="7.2" font-size="18.2">3/2</tspan></text>
<text x="1845.1" y="1202.3" font-size="26.5">Ce 3d<tspan dy="7.2" font-size="18.2">5/2</tspan></text>
    </svg></body></html>
